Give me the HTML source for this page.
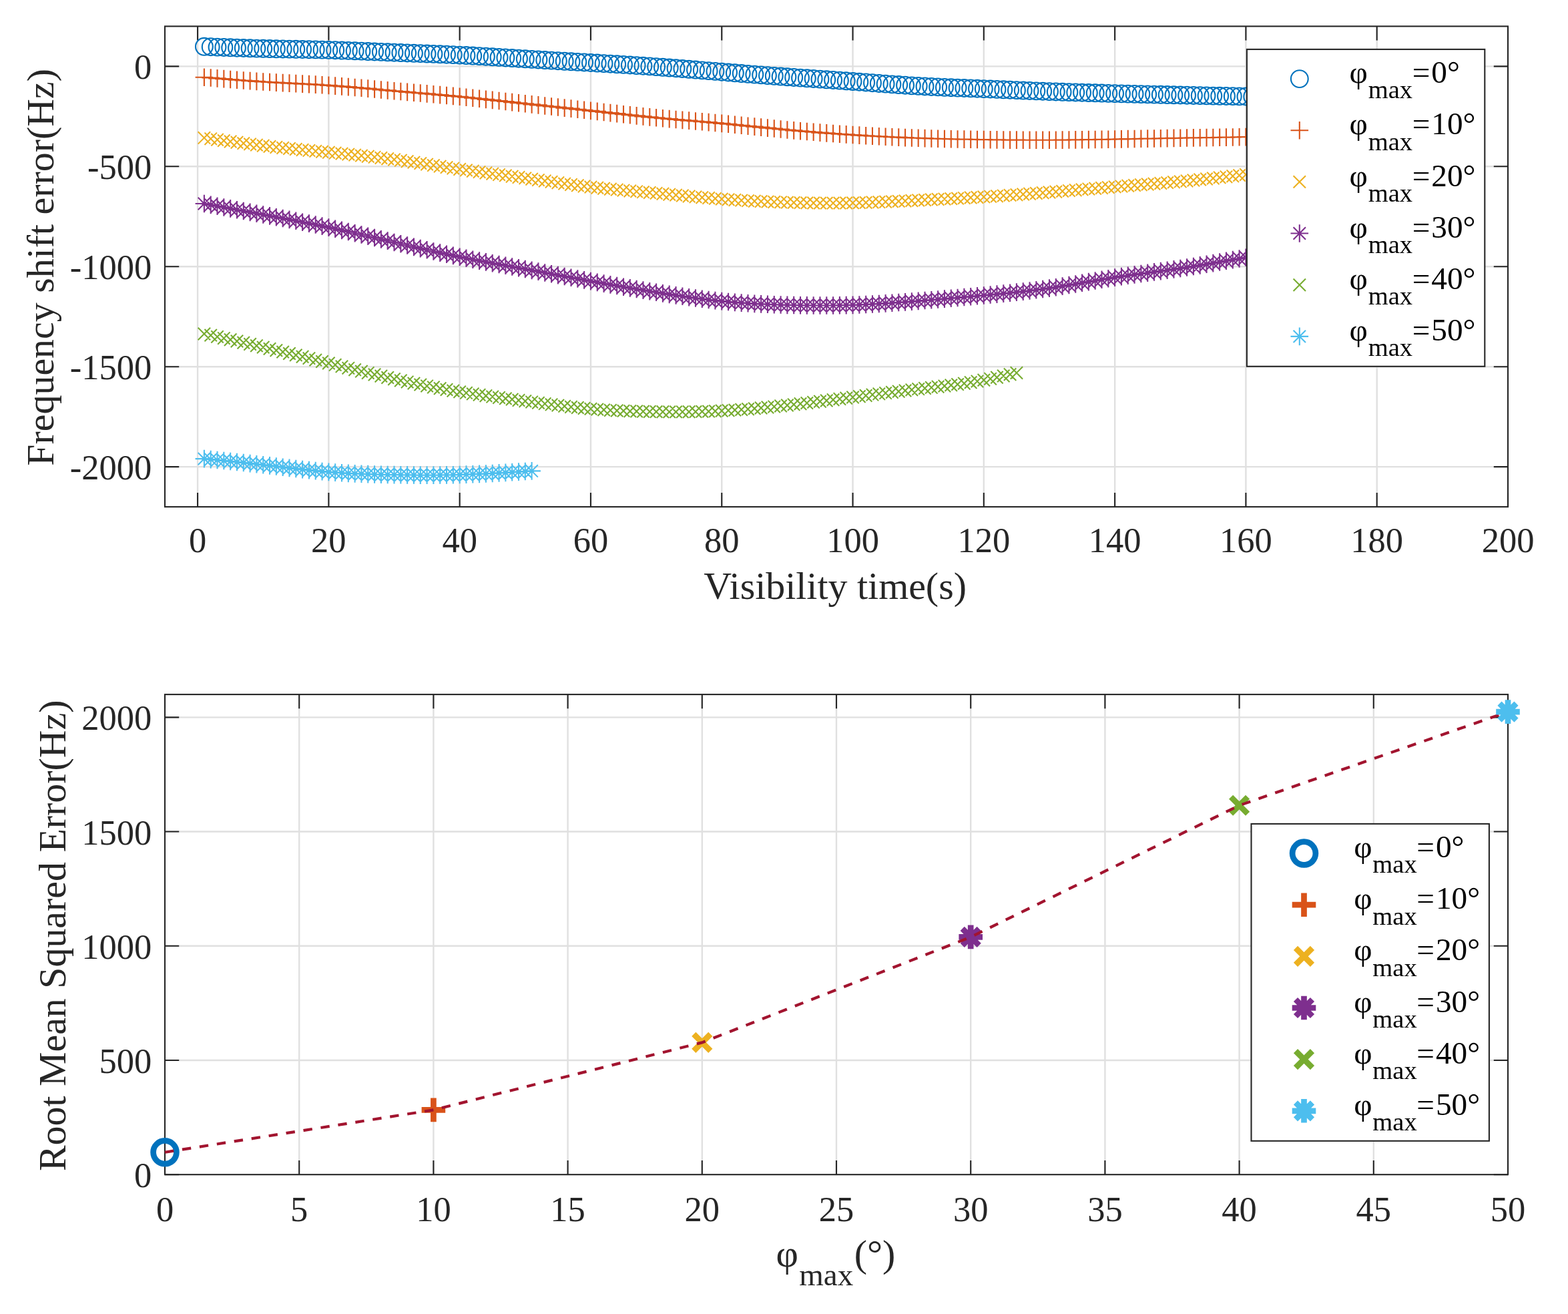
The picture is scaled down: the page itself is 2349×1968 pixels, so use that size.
<!DOCTYPE html><html><head><meta charset="utf-8"><style>html,body{margin:0;padding:0;background:#fff;}svg{display:block;}</style></head><body>
<svg width="2349" height="1968" viewBox="0 0 2349 1968">
<rect width="2349" height="1968" fill="#fff"/>
<path d="M296.07 39.4V759.1M492.37 39.4V759.1M688.66 39.4V759.1M884.95 39.4V759.1M1081.24 39.4V759.1M1277.54 39.4V759.1M1473.83 39.4V759.1M1670.12 39.4V759.1M1866.41 39.4V759.1M2062.71 39.4V759.1M247 699.12H2259M247 549.19H2259M247 399.25H2259M247 249.31H2259M247 99.38H2259" stroke="#e0e0e0" stroke-width="2.4" fill="none"/>
<path d="M296.07 759.1v-21.2M296.07 39.4v21.2M492.37 759.1v-21.2M492.37 39.4v21.2M688.66 759.1v-21.2M688.66 39.4v21.2M884.95 759.1v-21.2M884.95 39.4v21.2M1081.24 759.1v-21.2M1081.24 39.4v21.2M1277.54 759.1v-21.2M1277.54 39.4v21.2M1473.83 759.1v-21.2M1473.83 39.4v21.2M1670.12 759.1v-21.2M1670.12 39.4v21.2M1866.41 759.1v-21.2M1866.41 39.4v21.2M2062.71 759.1v-21.2M2062.71 39.4v21.2M2259 759.1v-21.2M2259 39.4v21.2M247 699.12h21.2M2259 699.12h-21.2M247 549.19h21.2M2259 549.19h-21.2M247 399.25h21.2M2259 399.25h-21.2M247 249.31h21.2M2259 249.31h-21.2M247 99.38h21.2M2259 99.38h-21.2" stroke="#262626" stroke-width="2.1" fill="none"/>
<rect x="247" y="39.4" width="2012" height="719.7" stroke="#262626" stroke-width="2.1" fill="none"/>
<g font-family="'Liberation Serif','Times New Roman',serif" font-size="52.5" fill="#262626"><text x="296.07" y="827.3" text-anchor="middle">0</text><text x="492.37" y="827.3" text-anchor="middle">20</text><text x="688.66" y="827.3" text-anchor="middle">40</text><text x="884.95" y="827.3" text-anchor="middle">60</text><text x="1081.24" y="827.3" text-anchor="middle">80</text><text x="1277.54" y="827.3" text-anchor="middle">100</text><text x="1473.83" y="827.3" text-anchor="middle">120</text><text x="1670.12" y="827.3" text-anchor="middle">140</text><text x="1866.41" y="827.3" text-anchor="middle">160</text><text x="2062.71" y="827.3" text-anchor="middle">180</text><text x="2259" y="827.3" text-anchor="middle">200</text><text x="227.3" y="718.23" text-anchor="end">-2000</text><text x="227.3" y="568.29" text-anchor="end">-1500</text><text x="227.3" y="418.35" text-anchor="end">-1000</text><text x="227.3" y="268.41" text-anchor="end">-500</text><text x="227.3" y="118.47" text-anchor="end">0</text></g>
<path d="M448.2 1040.1V1759.2M649.4 1040.1V1759.2M850.6 1040.1V1759.2M1051.8 1040.1V1759.2M1253 1040.1V1759.2M1454.2 1040.1V1759.2M1655.4 1040.1V1759.2M1856.6 1040.1V1759.2M2057.8 1040.1V1759.2M247 1587.99H2259M247 1416.77H2259M247 1245.56H2259M247 1074.34H2259" stroke="#e0e0e0" stroke-width="2.4" fill="none"/>
<path d="M247 1759.2v-21.2M247 1040.1v21.2M448.2 1759.2v-21.2M448.2 1040.1v21.2M649.4 1759.2v-21.2M649.4 1040.1v21.2M850.6 1759.2v-21.2M850.6 1040.1v21.2M1051.8 1759.2v-21.2M1051.8 1040.1v21.2M1253 1759.2v-21.2M1253 1040.1v21.2M1454.2 1759.2v-21.2M1454.2 1040.1v21.2M1655.4 1759.2v-21.2M1655.4 1040.1v21.2M1856.6 1759.2v-21.2M1856.6 1040.1v21.2M2057.8 1759.2v-21.2M2057.8 1040.1v21.2M2259 1759.2v-21.2M2259 1040.1v21.2M247 1759.2h21.2M2259 1759.2h-21.2M247 1587.99h21.2M2259 1587.99h-21.2M247 1416.77h21.2M2259 1416.77h-21.2M247 1245.56h21.2M2259 1245.56h-21.2M247 1074.34h21.2M2259 1074.34h-21.2" stroke="#262626" stroke-width="2.1" fill="none"/>
<rect x="247" y="1040.1" width="2012" height="719.1" stroke="#262626" stroke-width="2.1" fill="none"/>
<g font-family="'Liberation Serif','Times New Roman',serif" font-size="52.5" fill="#262626"><text x="247" y="1828.6" text-anchor="middle">0</text><text x="448.2" y="1828.6" text-anchor="middle">5</text><text x="649.4" y="1828.6" text-anchor="middle">10</text><text x="850.6" y="1828.6" text-anchor="middle">15</text><text x="1051.8" y="1828.6" text-anchor="middle">20</text><text x="1253" y="1828.6" text-anchor="middle">25</text><text x="1454.2" y="1828.6" text-anchor="middle">30</text><text x="1655.4" y="1828.6" text-anchor="middle">35</text><text x="1856.6" y="1828.6" text-anchor="middle">40</text><text x="2057.8" y="1828.6" text-anchor="middle">45</text><text x="2259" y="1828.6" text-anchor="middle">50</text><text x="227.3" y="1778.3" text-anchor="end">0</text><text x="227.3" y="1607.09" text-anchor="end">500</text><text x="227.3" y="1435.87" text-anchor="end">1000</text><text x="227.3" y="1264.66" text-anchor="end">1500</text><text x="227.3" y="1093.44" text-anchor="end">2000</text></g>
<path d="M292.99 69.84a12.9 12.9 0 1 0 25.8 0a12.9 12.9 0 1 0 -25.8 0M302.8 70.21a12.9 12.9 0 1 0 25.8 0a12.9 12.9 0 1 0 -25.8 0M312.62 70.59a12.9 12.9 0 1 0 25.8 0a12.9 12.9 0 1 0 -25.8 0M322.43 70.96a12.9 12.9 0 1 0 25.8 0a12.9 12.9 0 1 0 -25.8 0M332.25 71.31a12.9 12.9 0 1 0 25.8 0a12.9 12.9 0 1 0 -25.8 0M342.06 71.66a12.9 12.9 0 1 0 25.8 0a12.9 12.9 0 1 0 -25.8 0M351.88 71.98a12.9 12.9 0 1 0 25.8 0a12.9 12.9 0 1 0 -25.8 0M361.69 72.29a12.9 12.9 0 1 0 25.8 0a12.9 12.9 0 1 0 -25.8 0M371.5 72.58a12.9 12.9 0 1 0 25.8 0a12.9 12.9 0 1 0 -25.8 0M381.32 72.84a12.9 12.9 0 1 0 25.8 0a12.9 12.9 0 1 0 -25.8 0M391.13 73.07a12.9 12.9 0 1 0 25.8 0a12.9 12.9 0 1 0 -25.8 0M400.95 73.27a12.9 12.9 0 1 0 25.8 0a12.9 12.9 0 1 0 -25.8 0M410.76 73.47a12.9 12.9 0 1 0 25.8 0a12.9 12.9 0 1 0 -25.8 0M420.58 73.65a12.9 12.9 0 1 0 25.8 0a12.9 12.9 0 1 0 -25.8 0M430.39 73.82a12.9 12.9 0 1 0 25.8 0a12.9 12.9 0 1 0 -25.8 0M440.21 74.01a12.9 12.9 0 1 0 25.8 0a12.9 12.9 0 1 0 -25.8 0M450.02 74.2a12.9 12.9 0 1 0 25.8 0a12.9 12.9 0 1 0 -25.8 0M459.84 74.41a12.9 12.9 0 1 0 25.8 0a12.9 12.9 0 1 0 -25.8 0M469.65 74.64a12.9 12.9 0 1 0 25.8 0a12.9 12.9 0 1 0 -25.8 0M479.47 74.91a12.9 12.9 0 1 0 25.8 0a12.9 12.9 0 1 0 -25.8 0M489.28 75.2a12.9 12.9 0 1 0 25.8 0a12.9 12.9 0 1 0 -25.8 0M499.1 75.53a12.9 12.9 0 1 0 25.8 0a12.9 12.9 0 1 0 -25.8 0M508.91 75.89a12.9 12.9 0 1 0 25.8 0a12.9 12.9 0 1 0 -25.8 0M518.72 76.27a12.9 12.9 0 1 0 25.8 0a12.9 12.9 0 1 0 -25.8 0M528.54 76.66a12.9 12.9 0 1 0 25.8 0a12.9 12.9 0 1 0 -25.8 0M538.35 77.07a12.9 12.9 0 1 0 25.8 0a12.9 12.9 0 1 0 -25.8 0M548.17 77.48a12.9 12.9 0 1 0 25.8 0a12.9 12.9 0 1 0 -25.8 0M557.98 77.88a12.9 12.9 0 1 0 25.8 0a12.9 12.9 0 1 0 -25.8 0M567.8 78.29a12.9 12.9 0 1 0 25.8 0a12.9 12.9 0 1 0 -25.8 0M577.61 78.68a12.9 12.9 0 1 0 25.8 0a12.9 12.9 0 1 0 -25.8 0M587.43 79.06a12.9 12.9 0 1 0 25.8 0a12.9 12.9 0 1 0 -25.8 0M597.24 79.43a12.9 12.9 0 1 0 25.8 0a12.9 12.9 0 1 0 -25.8 0M607.06 79.8a12.9 12.9 0 1 0 25.8 0a12.9 12.9 0 1 0 -25.8 0M616.87 80.16a12.9 12.9 0 1 0 25.8 0a12.9 12.9 0 1 0 -25.8 0M626.69 80.52a12.9 12.9 0 1 0 25.8 0a12.9 12.9 0 1 0 -25.8 0M636.5 80.9a12.9 12.9 0 1 0 25.8 0a12.9 12.9 0 1 0 -25.8 0M646.31 81.29a12.9 12.9 0 1 0 25.8 0a12.9 12.9 0 1 0 -25.8 0M656.13 81.69a12.9 12.9 0 1 0 25.8 0a12.9 12.9 0 1 0 -25.8 0M665.94 82.12a12.9 12.9 0 1 0 25.8 0a12.9 12.9 0 1 0 -25.8 0M675.76 82.58a12.9 12.9 0 1 0 25.8 0a12.9 12.9 0 1 0 -25.8 0M685.57 83.07a12.9 12.9 0 1 0 25.8 0a12.9 12.9 0 1 0 -25.8 0M695.39 83.59a12.9 12.9 0 1 0 25.8 0a12.9 12.9 0 1 0 -25.8 0M705.2 84.13a12.9 12.9 0 1 0 25.8 0a12.9 12.9 0 1 0 -25.8 0M715.02 84.7a12.9 12.9 0 1 0 25.8 0a12.9 12.9 0 1 0 -25.8 0M724.83 85.28a12.9 12.9 0 1 0 25.8 0a12.9 12.9 0 1 0 -25.8 0M734.65 85.87a12.9 12.9 0 1 0 25.8 0a12.9 12.9 0 1 0 -25.8 0M744.46 86.47a12.9 12.9 0 1 0 25.8 0a12.9 12.9 0 1 0 -25.8 0M754.28 87.07a12.9 12.9 0 1 0 25.8 0a12.9 12.9 0 1 0 -25.8 0M764.09 87.68a12.9 12.9 0 1 0 25.8 0a12.9 12.9 0 1 0 -25.8 0M773.9 88.28a12.9 12.9 0 1 0 25.8 0a12.9 12.9 0 1 0 -25.8 0M783.72 88.87a12.9 12.9 0 1 0 25.8 0a12.9 12.9 0 1 0 -25.8 0M793.53 89.46a12.9 12.9 0 1 0 25.8 0a12.9 12.9 0 1 0 -25.8 0M803.35 90.04a12.9 12.9 0 1 0 25.8 0a12.9 12.9 0 1 0 -25.8 0M813.16 90.61a12.9 12.9 0 1 0 25.8 0a12.9 12.9 0 1 0 -25.8 0M822.98 91.18a12.9 12.9 0 1 0 25.8 0a12.9 12.9 0 1 0 -25.8 0M832.79 91.75a12.9 12.9 0 1 0 25.8 0a12.9 12.9 0 1 0 -25.8 0M842.61 92.32a12.9 12.9 0 1 0 25.8 0a12.9 12.9 0 1 0 -25.8 0M852.42 92.88a12.9 12.9 0 1 0 25.8 0a12.9 12.9 0 1 0 -25.8 0M862.24 93.44a12.9 12.9 0 1 0 25.8 0a12.9 12.9 0 1 0 -25.8 0M872.05 94.01a12.9 12.9 0 1 0 25.8 0a12.9 12.9 0 1 0 -25.8 0M881.87 94.57a12.9 12.9 0 1 0 25.8 0a12.9 12.9 0 1 0 -25.8 0M891.68 95.14a12.9 12.9 0 1 0 25.8 0a12.9 12.9 0 1 0 -25.8 0M901.5 95.72a12.9 12.9 0 1 0 25.8 0a12.9 12.9 0 1 0 -25.8 0M911.31 96.3a12.9 12.9 0 1 0 25.8 0a12.9 12.9 0 1 0 -25.8 0M921.12 96.9a12.9 12.9 0 1 0 25.8 0a12.9 12.9 0 1 0 -25.8 0M930.94 97.5a12.9 12.9 0 1 0 25.8 0a12.9 12.9 0 1 0 -25.8 0M940.75 98.12a12.9 12.9 0 1 0 25.8 0a12.9 12.9 0 1 0 -25.8 0M950.57 98.76a12.9 12.9 0 1 0 25.8 0a12.9 12.9 0 1 0 -25.8 0M960.38 99.42a12.9 12.9 0 1 0 25.8 0a12.9 12.9 0 1 0 -25.8 0M970.2 100.09a12.9 12.9 0 1 0 25.8 0a12.9 12.9 0 1 0 -25.8 0M980.01 100.79a12.9 12.9 0 1 0 25.8 0a12.9 12.9 0 1 0 -25.8 0M989.83 101.52a12.9 12.9 0 1 0 25.8 0a12.9 12.9 0 1 0 -25.8 0M999.64 102.25a12.9 12.9 0 1 0 25.8 0a12.9 12.9 0 1 0 -25.8 0M1009.46 103.01a12.9 12.9 0 1 0 25.8 0a12.9 12.9 0 1 0 -25.8 0M1019.27 103.77a12.9 12.9 0 1 0 25.8 0a12.9 12.9 0 1 0 -25.8 0M1029.09 104.55a12.9 12.9 0 1 0 25.8 0a12.9 12.9 0 1 0 -25.8 0M1038.9 105.34a12.9 12.9 0 1 0 25.8 0a12.9 12.9 0 1 0 -25.8 0M1048.71 106.13a12.9 12.9 0 1 0 25.8 0a12.9 12.9 0 1 0 -25.8 0M1058.53 106.92a12.9 12.9 0 1 0 25.8 0a12.9 12.9 0 1 0 -25.8 0M1068.34 107.71a12.9 12.9 0 1 0 25.8 0a12.9 12.9 0 1 0 -25.8 0M1078.16 108.5a12.9 12.9 0 1 0 25.8 0a12.9 12.9 0 1 0 -25.8 0M1087.97 109.29a12.9 12.9 0 1 0 25.8 0a12.9 12.9 0 1 0 -25.8 0M1097.79 110.07a12.9 12.9 0 1 0 25.8 0a12.9 12.9 0 1 0 -25.8 0M1107.6 110.84a12.9 12.9 0 1 0 25.8 0a12.9 12.9 0 1 0 -25.8 0M1117.42 111.61a12.9 12.9 0 1 0 25.8 0a12.9 12.9 0 1 0 -25.8 0M1127.23 112.36a12.9 12.9 0 1 0 25.8 0a12.9 12.9 0 1 0 -25.8 0M1137.05 113.11a12.9 12.9 0 1 0 25.8 0a12.9 12.9 0 1 0 -25.8 0M1146.86 113.84a12.9 12.9 0 1 0 25.8 0a12.9 12.9 0 1 0 -25.8 0M1156.68 114.56a12.9 12.9 0 1 0 25.8 0a12.9 12.9 0 1 0 -25.8 0M1166.49 115.27a12.9 12.9 0 1 0 25.8 0a12.9 12.9 0 1 0 -25.8 0M1176.3 115.96a12.9 12.9 0 1 0 25.8 0a12.9 12.9 0 1 0 -25.8 0M1186.12 116.64a12.9 12.9 0 1 0 25.8 0a12.9 12.9 0 1 0 -25.8 0M1195.93 117.3a12.9 12.9 0 1 0 25.8 0a12.9 12.9 0 1 0 -25.8 0M1205.75 117.97a12.9 12.9 0 1 0 25.8 0a12.9 12.9 0 1 0 -25.8 0M1215.56 118.63a12.9 12.9 0 1 0 25.8 0a12.9 12.9 0 1 0 -25.8 0M1225.38 119.29a12.9 12.9 0 1 0 25.8 0a12.9 12.9 0 1 0 -25.8 0M1235.19 119.96a12.9 12.9 0 1 0 25.8 0a12.9 12.9 0 1 0 -25.8 0M1245.01 120.63a12.9 12.9 0 1 0 25.8 0a12.9 12.9 0 1 0 -25.8 0M1254.82 121.32a12.9 12.9 0 1 0 25.8 0a12.9 12.9 0 1 0 -25.8 0M1264.64 122.02a12.9 12.9 0 1 0 25.8 0a12.9 12.9 0 1 0 -25.8 0M1274.45 122.73a12.9 12.9 0 1 0 25.8 0a12.9 12.9 0 1 0 -25.8 0M1284.27 123.46a12.9 12.9 0 1 0 25.8 0a12.9 12.9 0 1 0 -25.8 0M1294.08 124.2a12.9 12.9 0 1 0 25.8 0a12.9 12.9 0 1 0 -25.8 0M1303.9 124.93a12.9 12.9 0 1 0 25.8 0a12.9 12.9 0 1 0 -25.8 0M1313.71 125.65a12.9 12.9 0 1 0 25.8 0a12.9 12.9 0 1 0 -25.8 0M1323.52 126.36a12.9 12.9 0 1 0 25.8 0a12.9 12.9 0 1 0 -25.8 0M1333.34 127.05a12.9 12.9 0 1 0 25.8 0a12.9 12.9 0 1 0 -25.8 0M1343.15 127.71a12.9 12.9 0 1 0 25.8 0a12.9 12.9 0 1 0 -25.8 0M1352.97 128.33a12.9 12.9 0 1 0 25.8 0a12.9 12.9 0 1 0 -25.8 0M1362.78 128.91a12.9 12.9 0 1 0 25.8 0a12.9 12.9 0 1 0 -25.8 0M1372.6 129.45a12.9 12.9 0 1 0 25.8 0a12.9 12.9 0 1 0 -25.8 0M1382.41 129.94a12.9 12.9 0 1 0 25.8 0a12.9 12.9 0 1 0 -25.8 0M1392.23 130.4a12.9 12.9 0 1 0 25.8 0a12.9 12.9 0 1 0 -25.8 0M1402.04 130.83a12.9 12.9 0 1 0 25.8 0a12.9 12.9 0 1 0 -25.8 0M1411.86 131.23a12.9 12.9 0 1 0 25.8 0a12.9 12.9 0 1 0 -25.8 0M1421.67 131.62a12.9 12.9 0 1 0 25.8 0a12.9 12.9 0 1 0 -25.8 0M1431.49 131.99a12.9 12.9 0 1 0 25.8 0a12.9 12.9 0 1 0 -25.8 0M1441.3 132.36a12.9 12.9 0 1 0 25.8 0a12.9 12.9 0 1 0 -25.8 0M1451.11 132.73a12.9 12.9 0 1 0 25.8 0a12.9 12.9 0 1 0 -25.8 0M1460.93 133.11a12.9 12.9 0 1 0 25.8 0a12.9 12.9 0 1 0 -25.8 0M1470.74 133.5a12.9 12.9 0 1 0 25.8 0a12.9 12.9 0 1 0 -25.8 0M1480.56 133.9a12.9 12.9 0 1 0 25.8 0a12.9 12.9 0 1 0 -25.8 0M1490.37 134.31a12.9 12.9 0 1 0 25.8 0a12.9 12.9 0 1 0 -25.8 0M1500.19 134.72a12.9 12.9 0 1 0 25.8 0a12.9 12.9 0 1 0 -25.8 0M1510 135.13a12.9 12.9 0 1 0 25.8 0a12.9 12.9 0 1 0 -25.8 0M1519.82 135.54a12.9 12.9 0 1 0 25.8 0a12.9 12.9 0 1 0 -25.8 0M1529.63 135.94a12.9 12.9 0 1 0 25.8 0a12.9 12.9 0 1 0 -25.8 0M1539.45 136.34a12.9 12.9 0 1 0 25.8 0a12.9 12.9 0 1 0 -25.8 0M1549.26 136.73a12.9 12.9 0 1 0 25.8 0a12.9 12.9 0 1 0 -25.8 0M1559.08 137.1a12.9 12.9 0 1 0 25.8 0a12.9 12.9 0 1 0 -25.8 0M1568.89 137.45a12.9 12.9 0 1 0 25.8 0a12.9 12.9 0 1 0 -25.8 0M1578.7 137.79a12.9 12.9 0 1 0 25.8 0a12.9 12.9 0 1 0 -25.8 0M1588.52 138.12a12.9 12.9 0 1 0 25.8 0a12.9 12.9 0 1 0 -25.8 0M1598.33 138.43a12.9 12.9 0 1 0 25.8 0a12.9 12.9 0 1 0 -25.8 0M1608.15 138.73a12.9 12.9 0 1 0 25.8 0a12.9 12.9 0 1 0 -25.8 0M1617.96 139.02a12.9 12.9 0 1 0 25.8 0a12.9 12.9 0 1 0 -25.8 0M1627.78 139.3a12.9 12.9 0 1 0 25.8 0a12.9 12.9 0 1 0 -25.8 0M1637.59 139.57a12.9 12.9 0 1 0 25.8 0a12.9 12.9 0 1 0 -25.8 0M1647.41 139.84a12.9 12.9 0 1 0 25.8 0a12.9 12.9 0 1 0 -25.8 0M1657.22 140.1a12.9 12.9 0 1 0 25.8 0a12.9 12.9 0 1 0 -25.8 0M1667.04 140.35a12.9 12.9 0 1 0 25.8 0a12.9 12.9 0 1 0 -25.8 0M1676.85 140.61a12.9 12.9 0 1 0 25.8 0a12.9 12.9 0 1 0 -25.8 0M1686.67 140.85a12.9 12.9 0 1 0 25.8 0a12.9 12.9 0 1 0 -25.8 0M1696.48 141.1a12.9 12.9 0 1 0 25.8 0a12.9 12.9 0 1 0 -25.8 0M1706.3 141.34a12.9 12.9 0 1 0 25.8 0a12.9 12.9 0 1 0 -25.8 0M1716.11 141.58a12.9 12.9 0 1 0 25.8 0a12.9 12.9 0 1 0 -25.8 0M1725.92 141.81a12.9 12.9 0 1 0 25.8 0a12.9 12.9 0 1 0 -25.8 0M1735.74 142.04a12.9 12.9 0 1 0 25.8 0a12.9 12.9 0 1 0 -25.8 0M1745.55 142.27a12.9 12.9 0 1 0 25.8 0a12.9 12.9 0 1 0 -25.8 0M1755.37 142.5a12.9 12.9 0 1 0 25.8 0a12.9 12.9 0 1 0 -25.8 0M1765.18 142.72a12.9 12.9 0 1 0 25.8 0a12.9 12.9 0 1 0 -25.8 0M1775 142.94a12.9 12.9 0 1 0 25.8 0a12.9 12.9 0 1 0 -25.8 0M1784.81 143.16a12.9 12.9 0 1 0 25.8 0a12.9 12.9 0 1 0 -25.8 0M1794.63 143.37a12.9 12.9 0 1 0 25.8 0a12.9 12.9 0 1 0 -25.8 0M1804.44 143.58a12.9 12.9 0 1 0 25.8 0a12.9 12.9 0 1 0 -25.8 0M1814.26 143.78a12.9 12.9 0 1 0 25.8 0a12.9 12.9 0 1 0 -25.8 0M1824.07 143.97a12.9 12.9 0 1 0 25.8 0a12.9 12.9 0 1 0 -25.8 0M1833.89 144.16a12.9 12.9 0 1 0 25.8 0a12.9 12.9 0 1 0 -25.8 0M1843.7 144.34a12.9 12.9 0 1 0 25.8 0a12.9 12.9 0 1 0 -25.8 0M1853.51 144.51a12.9 12.9 0 1 0 25.8 0a12.9 12.9 0 1 0 -25.8 0M1863.33 144.67a12.9 12.9 0 1 0 25.8 0a12.9 12.9 0 1 0 -25.8 0M1873.14 144.82a12.9 12.9 0 1 0 25.8 0a12.9 12.9 0 1 0 -25.8 0M1882.96 144.97a12.9 12.9 0 1 0 25.8 0a12.9 12.9 0 1 0 -25.8 0M1892.77 145.11a12.9 12.9 0 1 0 25.8 0a12.9 12.9 0 1 0 -25.8 0M1902.59 145.24a12.9 12.9 0 1 0 25.8 0a12.9 12.9 0 1 0 -25.8 0M1912.4 145.37a12.9 12.9 0 1 0 25.8 0a12.9 12.9 0 1 0 -25.8 0M1922.22 145.49a12.9 12.9 0 1 0 25.8 0a12.9 12.9 0 1 0 -25.8 0M1932.03 145.62a12.9 12.9 0 1 0 25.8 0a12.9 12.9 0 1 0 -25.8 0M1941.85 145.74a12.9 12.9 0 1 0 25.8 0a12.9 12.9 0 1 0 -25.8 0M1951.66 145.86a12.9 12.9 0 1 0 25.8 0a12.9 12.9 0 1 0 -25.8 0" stroke="#0072BD" stroke-width="2.1" fill="none"/>
<path d="M292.59 115.72H319.19M305.89 102.42V129.02M302.4 116.54H329M315.7 103.24V129.84M312.22 117.36H338.82M325.52 104.06V130.66M322.03 118.16H348.63M335.33 104.86V131.46M331.85 118.95H358.45M345.15 105.65V132.25M341.66 119.72H368.26M354.96 106.42V133.02M351.48 120.46H378.08M364.78 107.16V133.76M361.29 121.17H387.89M374.59 107.87V134.47M371.1 121.84H397.7M384.4 108.54V135.14M380.92 122.47H407.52M394.22 109.17V135.77M390.73 123.05H417.33M404.03 109.75V136.35M400.55 123.59H427.15M413.85 110.29V136.89M410.36 124.11H436.96M423.66 110.81V137.41M420.18 124.61H446.78M433.48 111.31V137.91M429.99 125.11H456.59M443.29 111.81V138.41M439.81 125.61H466.41M453.11 112.31V138.91M449.62 126.13H476.22M462.92 112.83V139.43M459.44 126.67H486.04M472.74 113.37V139.97M469.25 127.26H495.85M482.55 113.96V140.56M479.07 127.89H505.67M492.37 114.59V141.19M488.88 128.58H515.48M502.18 115.28V141.88M498.7 129.33H525.3M512 116.03V142.63M508.51 130.12H535.11M521.81 116.82V143.42M518.32 130.94H544.92M531.62 117.64V144.24M528.14 131.79H554.74M541.44 118.49V145.09M537.95 132.67H564.55M551.25 119.37V145.97M547.77 133.55H574.37M561.07 120.25V146.85M557.58 134.44H584.18M570.88 121.14V147.74M567.4 135.33H594M580.7 122.03V148.63M577.21 136.2H603.81M590.51 122.9V149.5M587.03 137.06H613.63M600.33 123.76V150.36M596.84 137.9H623.44M610.14 124.6V151.2M606.66 138.73H633.26M619.96 125.43V152.03M616.47 139.57H643.07M629.77 126.27V152.87M626.29 140.4H652.89M639.59 127.1V153.7M636.1 141.24H662.7M649.4 127.94V154.54M645.91 142.1H672.51M659.21 128.8V155.4M655.73 142.97H682.33M669.03 129.67V156.27M665.54 143.87H692.14M678.84 130.57V157.17M675.36 144.81H701.96M688.66 131.51V158.11M685.17 145.77H711.77M698.47 132.47V159.07M694.99 146.77H721.59M708.29 133.47V160.07M704.8 147.79H731.4M718.1 134.49V161.09M714.62 148.84H741.22M727.92 135.54V162.14M724.43 149.9H751.03M737.73 136.6V163.2M734.25 150.98H760.85M747.55 137.68V164.28M744.06 152.06H770.66M757.36 138.76V165.36M753.88 153.14H780.48M767.18 139.84V166.44M763.69 154.23H790.29M776.99 140.93V167.53M773.5 155.3H800.1M786.8 142V168.6M783.32 156.37H809.92M796.62 143.07V169.67M793.13 157.42H819.73M806.43 144.12V170.72M802.95 158.47H829.55M816.25 145.17V171.77M812.76 159.52H839.36M826.06 146.22V172.82M822.58 160.56H849.18M835.88 147.26V173.86M832.39 161.6H858.99M845.69 148.3V174.9M842.21 162.65H868.81M855.51 149.35V175.95M852.02 163.7H878.62M865.32 150.4V177M861.84 164.76H888.44M875.14 151.46V178.06M871.65 165.83H898.25M884.95 152.53V179.13M881.47 166.91H908.07M894.77 153.61V180.21M891.28 167.99H917.88M904.58 154.69V181.29M901.1 169.08H927.7M914.4 155.78V182.38M910.91 170.17H937.51M924.21 156.87V183.47M920.72 171.25H947.32M934.02 157.95V184.55M930.54 172.31H957.14M943.84 159.01V185.61M940.35 173.35H966.95M953.65 160.05V186.65M950.17 174.38H976.77M963.47 161.08V187.68M959.98 175.37H986.58M973.28 162.07V188.67M969.8 176.32H996.4M983.1 163.02V189.62M979.61 177.24H1006.21M992.91 163.94V190.54M989.43 178.13H1016.03M1002.73 164.83V191.43M999.24 178.99H1025.84M1012.54 165.69V192.29M1009.06 179.83H1035.66M1022.36 166.53V193.13M1018.87 180.66H1045.47M1032.17 167.36V193.96M1028.69 181.49H1055.29M1041.99 168.19V194.79M1038.5 182.32H1065.1M1051.8 169.02V195.62M1048.31 183.16H1074.91M1061.61 169.86V196.46M1058.13 184.02H1084.73M1071.43 170.72V197.32M1067.94 184.9H1094.54M1081.24 171.6V198.2M1077.76 185.81H1104.36M1091.06 172.51V199.11M1087.57 186.75H1114.17M1100.87 173.45V200.05M1097.39 187.71H1123.99M1110.69 174.41V201.01M1107.2 188.68H1133.8M1120.5 175.38V201.98M1117.02 189.66H1143.62M1130.32 176.36V202.96M1126.83 190.64H1153.43M1140.13 177.34V203.94M1136.65 191.61H1163.25M1149.95 178.31V204.91M1146.46 192.57H1173.06M1159.76 179.27V205.87M1156.28 193.52H1182.88M1169.58 180.22V206.82M1166.09 194.44H1192.69M1179.39 181.14V207.74M1175.9 195.33H1202.5M1189.2 182.03V208.63M1185.72 196.19H1212.32M1199.02 182.89V209.49M1195.53 197.02H1222.13M1208.83 183.72V210.32M1205.35 197.82H1231.95M1218.65 184.52V211.12M1215.16 198.59H1241.76M1228.46 185.29V211.89M1224.98 199.33H1251.58M1238.28 186.03V212.63M1234.79 200.05H1261.39M1248.09 186.75V213.35M1244.61 200.73H1271.21M1257.91 187.43V214.03M1254.42 201.39H1281.02M1267.72 188.09V214.69M1264.24 202.02H1290.84M1277.54 188.72V215.32M1274.05 202.63H1300.65M1287.35 189.33V215.93M1283.87 203.2H1310.47M1297.17 189.9V216.5M1293.68 203.75H1320.28M1306.98 190.45V217.05M1303.5 204.27H1330.1M1316.8 190.97V217.57M1313.31 204.76H1339.91M1326.61 191.46V218.06M1323.12 205.23H1349.72M1336.42 191.93V218.53M1332.94 205.67H1359.54M1346.24 192.37V218.97M1342.75 206.08H1369.35M1356.05 192.78V219.38M1352.57 206.46H1379.17M1365.87 193.16V219.76M1362.38 206.82H1388.98M1375.68 193.52V220.12M1372.2 207.15H1398.8M1385.5 193.85V220.45M1382.01 207.45H1408.61M1395.31 194.15V220.75M1391.83 207.73H1418.43M1405.13 194.43V221.03M1401.64 207.99H1428.24M1414.94 194.69V221.29M1411.46 208.23H1438.06M1424.76 194.93V221.53M1421.27 208.44H1447.87M1434.57 195.14V221.74M1431.09 208.64H1457.69M1444.39 195.34V221.94M1440.9 208.82H1467.5M1454.2 195.52V222.12M1450.71 208.98H1477.31M1464.01 195.68V222.28M1460.53 209.13H1487.13M1473.83 195.83V222.43M1470.34 209.26H1496.94M1483.64 195.96V222.56M1480.16 209.38H1506.76M1493.46 196.08V222.68M1489.97 209.49H1516.57M1503.27 196.19V222.79M1499.79 209.58H1526.39M1513.09 196.28V222.88M1509.6 209.65H1536.2M1522.9 196.35V222.95M1519.42 209.71H1546.02M1532.72 196.41V223.01M1529.23 209.74H1555.83M1542.53 196.44V223.04M1539.05 209.76H1565.65M1552.35 196.46V223.06M1548.86 209.75H1575.46M1562.16 196.45V223.05M1558.68 209.73H1585.28M1571.98 196.43V223.03M1568.49 209.68H1595.09M1581.79 196.38V222.98M1578.3 209.61H1604.9M1591.6 196.31V222.91M1588.12 209.52H1614.72M1601.42 196.22V222.82M1597.93 209.42H1624.53M1611.23 196.12V222.72M1607.75 209.3H1634.35M1621.05 196V222.6M1617.56 209.17H1644.16M1630.86 195.87V222.47M1627.38 209.02H1653.98M1640.68 195.72V222.32M1637.19 208.86H1663.79M1650.49 195.56V222.16M1647.01 208.7H1673.61M1660.31 195.4V222M1656.82 208.53H1683.42M1670.12 195.23V221.83M1666.64 208.35H1693.24M1679.94 195.05V221.65M1676.45 208.17H1703.05M1689.75 194.87V221.47M1686.27 207.99H1712.87M1699.57 194.69V221.29M1696.08 207.81H1722.68M1709.38 194.51V221.11M1705.9 207.62H1732.5M1719.2 194.32V220.92M1715.71 207.44H1742.31M1729.01 194.14V220.74M1725.52 207.26H1752.12M1738.82 193.96V220.56M1735.34 207.08H1761.94M1748.64 193.78V220.38M1745.15 206.9H1771.75M1758.45 193.6V220.2M1754.97 206.73H1781.57M1768.27 193.43V220.03M1764.78 206.56H1791.38M1778.08 193.26V219.86M1774.6 206.4H1801.2M1787.9 193.1V219.7M1784.41 206.24H1811.01M1797.71 192.94V219.54M1794.23 206.08H1820.83M1807.53 192.78V219.38M1804.04 205.93H1830.64M1817.34 192.63V219.23M1813.86 205.77H1840.46M1827.16 192.47V219.07M1823.67 205.61H1850.27M1836.97 192.31V218.91M1833.49 205.45H1860.09M1846.79 192.15V218.75M1843.3 205.28H1869.9M1856.6 191.98V218.58M1853.11 205.11H1879.71M1866.41 191.81V218.41M1862.93 204.93H1889.53M1876.23 191.63V218.23M1872.74 204.75H1899.34M1886.04 191.45V218.05M1882.56 204.56H1909.16M1895.86 191.26V217.86M1892.37 204.36H1918.97M1905.67 191.06V217.66M1902.19 204.16H1928.79M1915.49 190.86V217.46M1912 203.96H1938.6M1925.3 190.66V217.26M1921.82 203.76H1948.42M1935.12 190.46V217.06M1931.63 203.55H1958.23M1944.93 190.25V216.85M1941.45 203.34H1968.05M1954.75 190.04V216.64M1951.26 203.13H1977.86M1964.56 189.83V216.43" stroke="#D95319" stroke-width="2.1" fill="none"/>
<path d="M296.69 197.23L315.09 215.63M296.69 215.63L315.09 197.23M306.5 198.62L324.9 217.02M306.5 217.02L324.9 198.62M316.32 200.01L334.72 218.41M316.32 218.41L334.72 200.01M326.13 201.39L344.53 219.79M326.13 219.79L344.53 201.39M335.95 202.75L354.35 221.15M335.95 221.15L354.35 202.75M345.76 204.09L364.16 222.49M345.76 222.49L364.16 204.09M355.58 205.39L373.98 223.79M355.58 223.79L373.98 205.39M365.39 206.66L383.79 225.06M365.39 225.06L383.79 206.66M375.2 207.89L393.6 226.29M375.2 226.29L393.6 207.89M385.02 209.08L403.42 227.48M385.02 227.48L403.42 209.08M394.83 210.21L413.23 228.61M394.83 228.61L413.23 210.21M404.65 211.29L423.05 229.69M404.65 229.69L423.05 211.29M414.46 212.34L432.86 230.74M414.46 230.74L432.86 212.34M424.28 213.35L442.68 231.75M424.28 231.75L442.68 213.35M434.09 214.33L452.49 232.73M434.09 232.73L452.49 214.33M443.91 215.29L462.31 233.69M443.91 233.69L462.31 215.29M453.72 216.23L472.12 234.63M453.72 234.63L472.12 216.23M463.54 217.17L481.94 235.57M463.54 235.57L481.94 217.17M473.35 218.1L491.75 236.5M473.35 236.5L491.75 218.1M483.17 219.03L501.57 237.43M483.17 237.43L501.57 219.03M492.98 219.97L511.38 238.37M492.98 238.37L511.38 219.97M502.8 220.93L521.2 239.33M502.8 239.33L521.2 220.93M512.61 221.9L531.01 240.3M512.61 240.3L531.01 221.9M522.42 222.9L540.82 241.3M522.42 241.3L540.82 222.9M532.24 223.94L550.64 242.34M532.24 242.34L550.64 223.94M542.05 225.01L560.45 243.41M542.05 243.41L560.45 225.01M551.87 226.12L570.27 244.52M551.87 244.52L570.27 226.12M561.68 227.28L580.08 245.68M561.68 245.68L580.08 227.28M571.5 228.49L589.9 246.89M571.5 246.89L589.9 228.49M581.31 229.77L599.71 248.17M581.31 248.17L599.71 229.77M591.13 231.1L609.53 249.5M591.13 249.5L609.53 231.1M600.94 232.49L619.34 250.89M600.94 250.89L619.34 232.49M610.76 233.93L629.16 252.33M610.76 252.33L629.16 233.93M620.57 235.4L638.97 253.8M620.57 253.8L638.97 235.4M630.39 236.89L648.79 255.29M630.39 255.29L648.79 236.89M640.2 238.39L658.6 256.79M640.2 256.79L658.6 238.39M650.01 239.9L668.41 258.3M650.01 258.3L668.41 239.9M659.83 241.39L678.23 259.79M659.83 259.79L678.23 241.39M669.64 242.87L688.04 261.27M669.64 261.27L688.04 242.87M679.46 244.31L697.86 262.71M679.46 262.71L697.86 244.31M689.27 245.72L707.67 264.12M689.27 264.12L707.67 245.72M699.09 247.09L717.49 265.49M699.09 265.49L717.49 247.09M708.9 248.43L727.3 266.83M708.9 266.83L727.3 248.43M718.72 249.76L737.12 268.16M718.72 268.16L737.12 249.76M728.53 251.07L746.93 269.47M728.53 269.47L746.93 251.07M738.35 252.37L756.75 270.77M738.35 270.77L756.75 252.37M748.16 253.67L766.56 272.07M748.16 272.07L766.56 253.67M757.98 254.99L776.38 273.39M757.98 273.39L776.38 254.99M767.79 256.31L786.19 274.71M767.79 274.71L786.19 256.31M777.6 257.66L796 276.06M777.6 276.06L796 257.66M787.42 259.03L805.82 277.43M787.42 277.43L805.82 259.03M797.23 260.41L815.63 278.81M797.23 278.81L815.63 260.41M807.05 261.81L825.45 280.21M807.05 280.21L825.45 261.81M816.86 263.2L835.26 281.6M816.86 281.6L835.26 263.2M826.68 264.58L845.08 282.98M826.68 282.98L845.08 264.58M836.49 265.94L854.89 284.34M836.49 284.34L854.89 265.94M846.31 267.26L864.71 285.66M846.31 285.66L864.71 267.26M856.12 268.54L874.52 286.94M856.12 286.94L874.52 268.54M865.94 269.77L884.34 288.17M865.94 288.17L884.34 269.77M875.75 270.94L894.15 289.34M875.75 289.34L894.15 270.94M885.57 272.04L903.97 290.44M885.57 290.44L903.97 272.04M895.38 273.07L913.78 291.47M895.38 291.47L913.78 273.07M905.2 274.05L923.6 292.45M905.2 292.45L923.6 274.05M915.01 274.98L933.41 293.38M915.01 293.38L933.41 274.98M924.82 275.88L943.22 294.28M924.82 294.28L943.22 275.88M934.64 276.76L953.04 295.16M934.64 295.16L953.04 276.76M944.45 277.62L962.85 296.02M944.45 296.02L962.85 277.62M954.27 278.47L972.67 296.87M954.27 296.87L972.67 278.47M964.08 279.33L982.48 297.73M964.08 297.73L982.48 279.33M973.9 280.21L992.3 298.61M973.9 298.61L992.3 280.21M983.71 281.1L1002.11 299.5M983.71 299.5L1002.11 281.1M993.53 282.01L1011.93 300.41M993.53 300.41L1011.93 282.01M1003.34 282.92L1021.74 301.32M1003.34 301.32L1021.74 282.92M1013.16 283.84L1031.56 302.24M1013.16 302.24L1031.56 283.84M1022.97 284.75L1041.37 303.15M1022.97 303.15L1041.37 284.75M1032.79 285.65L1051.19 304.05M1032.79 304.05L1051.19 285.65M1042.6 286.52L1061 304.92M1042.6 304.92L1061 286.52M1052.41 287.36L1070.81 305.76M1052.41 305.76L1070.81 287.36M1062.23 288.17L1080.63 306.57M1062.23 306.57L1080.63 288.17M1072.04 288.93L1090.44 307.33M1072.04 307.33L1090.44 288.93M1081.86 289.64L1100.26 308.04M1081.86 308.04L1100.26 289.64M1091.67 290.3L1110.07 308.7M1091.67 308.7L1110.07 290.3M1101.49 290.91L1119.89 309.31M1101.49 309.31L1119.89 290.91M1111.3 291.47L1129.7 309.87M1111.3 309.87L1129.7 291.47M1121.12 291.99L1139.52 310.39M1121.12 310.39L1139.52 291.99M1130.93 292.46L1149.33 310.86M1130.93 310.86L1149.33 292.46M1140.75 292.89L1159.15 311.29M1140.75 311.29L1159.15 292.89M1150.56 293.28L1168.96 311.68M1150.56 311.68L1168.96 293.28M1160.38 293.63L1178.78 312.03M1160.38 312.03L1178.78 293.63M1170.19 293.94L1188.59 312.34M1170.19 312.34L1188.59 293.94M1180 294.21L1198.4 312.61M1180 312.61L1198.4 294.21M1189.82 294.45L1208.22 312.85M1189.82 312.85L1208.22 294.45M1199.63 294.65L1218.03 313.05M1199.63 313.05L1218.03 294.65M1209.45 294.8L1227.85 313.2M1209.45 313.2L1227.85 294.8M1219.26 294.9L1237.66 313.3M1219.26 313.3L1237.66 294.9M1229.08 294.96L1247.48 313.36M1229.08 313.36L1247.48 294.96M1238.89 294.97L1257.29 313.37M1238.89 313.37L1257.29 294.97M1248.71 294.92L1267.11 313.32M1248.71 313.32L1267.11 294.92M1258.52 294.82L1276.92 313.22M1258.52 313.22L1276.92 294.82M1268.34 294.66L1286.74 313.06M1268.34 313.06L1286.74 294.66M1278.15 294.44L1296.55 312.84M1278.15 312.84L1296.55 294.44M1287.97 294.17L1306.37 312.57M1287.97 312.57L1306.37 294.17M1297.78 293.85L1316.18 312.25M1297.78 312.25L1316.18 293.85M1307.6 293.48L1326 311.88M1307.6 311.88L1326 293.48M1317.41 293.08L1335.81 311.48M1317.41 311.48L1335.81 293.08M1327.22 292.66L1345.62 311.06M1327.22 311.06L1345.62 292.66M1337.04 292.21L1355.44 310.61M1337.04 310.61L1355.44 292.21M1346.85 291.74L1365.25 310.14M1346.85 310.14L1365.25 291.74M1356.67 291.27L1375.07 309.67M1356.67 309.67L1375.07 291.27M1366.48 290.79L1384.88 309.19M1366.48 309.19L1384.88 290.79M1376.3 290.32L1394.7 308.72M1376.3 308.72L1394.7 290.32M1386.11 289.84L1404.51 308.24M1386.11 308.24L1404.51 289.84M1395.93 289.36L1414.33 307.76M1395.93 307.76L1414.33 289.36M1405.74 288.88L1424.14 307.28M1405.74 307.28L1424.14 288.88M1415.56 288.39L1433.96 306.79M1415.56 306.79L1433.96 288.39M1425.37 287.89L1443.77 306.29M1425.37 306.29L1443.77 287.89M1435.19 287.37L1453.59 305.77M1435.19 305.77L1453.59 287.37M1445 286.84L1463.4 305.24M1445 305.24L1463.4 286.84M1454.81 286.29L1473.21 304.69M1454.81 304.69L1473.21 286.29M1464.63 285.72L1483.03 304.12M1464.63 304.12L1483.03 285.72M1474.44 285.13L1492.84 303.53M1474.44 303.53L1492.84 285.13M1484.26 284.51L1502.66 302.91M1484.26 302.91L1502.66 284.51M1494.07 283.87L1512.47 302.27M1494.07 302.27L1512.47 283.87M1503.89 283.2L1522.29 301.6M1503.89 301.6L1522.29 283.2M1513.7 282.52L1532.1 300.92M1513.7 300.92L1532.1 282.52M1523.52 281.81L1541.92 300.21M1523.52 300.21L1541.92 281.81M1533.33 281.09L1551.73 299.49M1533.33 299.49L1551.73 281.09M1543.15 280.34L1561.55 298.74M1543.15 298.74L1561.55 280.34M1552.96 279.58L1571.36 297.98M1552.96 297.98L1571.36 279.58M1562.78 278.8L1581.18 297.2M1562.78 297.2L1581.18 278.8M1572.59 278L1590.99 296.4M1572.59 296.4L1590.99 278M1582.4 277.19L1600.8 295.59M1582.4 295.59L1600.8 277.19M1592.22 276.37L1610.62 294.77M1592.22 294.77L1610.62 276.37M1602.03 275.54L1620.43 293.94M1602.03 293.94L1620.43 275.54M1611.85 274.71L1630.25 293.11M1611.85 293.11L1630.25 274.71M1621.66 273.88L1640.06 292.28M1621.66 292.28L1640.06 273.88M1631.48 273.05L1649.88 291.45M1631.48 291.45L1649.88 273.05M1641.29 272.24L1659.69 290.64M1641.29 290.64L1659.69 272.24M1651.11 271.43L1669.51 289.83M1651.11 289.83L1669.51 271.43M1660.92 270.64L1679.32 289.04M1660.92 289.04L1679.32 270.64M1670.74 269.87L1689.14 288.27M1670.74 288.27L1689.14 269.87M1680.55 269.1L1698.95 287.5M1680.55 287.5L1698.95 269.1M1690.37 268.35L1708.77 286.75M1690.37 286.75L1708.77 268.35M1700.18 267.59L1718.58 285.99M1700.18 285.99L1718.58 267.59M1710 266.83L1728.4 285.23M1710 285.23L1728.4 266.83M1719.81 266.06L1738.21 284.46M1719.81 284.46L1738.21 266.06M1729.62 265.27L1748.02 283.67M1729.62 283.67L1748.02 265.27M1739.44 264.45L1757.84 282.85M1739.44 282.85L1757.84 264.45M1749.25 263.61L1767.65 282.01M1749.25 282.01L1767.65 263.61M1759.07 262.72L1777.47 281.12M1759.07 281.12L1777.47 262.72M1768.88 261.8L1787.28 280.2M1768.88 280.2L1787.28 261.8M1778.7 260.84L1797.1 279.24M1778.7 279.24L1797.1 260.84M1788.51 259.84L1806.91 278.24M1788.51 278.24L1806.91 259.84M1798.33 258.82L1816.73 277.22M1798.33 277.22L1816.73 258.82M1808.14 257.77L1826.54 276.17M1808.14 276.17L1826.54 257.77M1817.96 256.7L1836.36 275.1M1817.96 275.1L1836.36 256.7M1827.77 255.62L1846.17 274.02M1827.77 274.02L1846.17 255.62M1837.59 254.53L1855.99 272.93M1837.59 272.93L1855.99 254.53M1847.4 253.44L1865.8 271.84M1847.4 271.84L1865.8 253.44M1857.21 252.35L1875.61 270.75M1857.21 270.75L1875.61 252.35M1867.03 251.26L1885.43 269.66M1867.03 269.66L1885.43 251.26M1876.84 250.17L1895.24 268.57M1876.84 268.57L1895.24 250.17M1886.66 249.1L1905.06 267.5M1886.66 267.5L1905.06 249.1M1896.47 248.02L1914.87 266.42M1896.47 266.42L1914.87 248.02M1906.29 246.95L1924.69 265.35M1906.29 265.35L1924.69 246.95M1916.1 245.88L1934.5 264.28M1916.1 264.28L1934.5 245.88M1925.92 244.81L1944.32 263.21M1925.92 263.21L1944.32 244.81M1935.73 243.74L1954.13 262.14M1935.73 262.14L1954.13 243.74M1945.55 242.68L1963.95 261.08M1945.55 261.08L1963.95 242.68M1955.36 241.61L1973.76 260.01M1955.36 260.01L1973.76 241.61" stroke="#EDB120" stroke-width="2.1" fill="none"/>
<path d="M292.59 305.03H319.19M305.89 291.73V318.33M296.69 295.83L315.09 314.23M296.69 314.23L315.09 295.83M302.4 306.87H329M315.7 293.57V320.17M306.5 297.67L324.9 316.07M306.5 316.07L324.9 297.67M312.22 308.71H338.82M325.52 295.41V322.01M316.32 299.51L334.72 317.91M316.32 317.91L334.72 299.51M322.03 310.55H348.63M335.33 297.25V323.85M326.13 301.35L344.53 319.75M326.13 319.75L344.53 301.35M331.85 312.38H358.45M345.15 299.08V325.68M335.95 303.18L354.35 321.58M335.95 321.58L354.35 303.18M341.66 314.22H368.26M354.96 300.92V327.52M345.76 305.02L364.16 323.42M345.76 323.42L364.16 305.02M351.48 316.06H378.08M364.78 302.76V329.36M355.58 306.86L373.98 325.26M355.58 325.26L373.98 306.86M361.29 317.89H387.89M374.59 304.59V331.19M365.39 308.69L383.79 327.09M365.39 327.09L383.79 308.69M371.1 319.72H397.7M384.4 306.42V333.02M375.2 310.52L393.6 328.92M375.2 328.92L393.6 310.52M380.92 321.55H407.52M394.22 308.25V334.85M385.02 312.35L403.42 330.75M385.02 330.75L403.42 312.35M390.73 323.38H417.33M404.03 310.08V336.68M394.83 314.18L413.23 332.58M394.83 332.58L413.23 314.18M400.55 325.21H427.15M413.85 311.91V338.51M404.65 316.01L423.05 334.41M404.65 334.41L423.05 316.01M410.36 327.06H436.96M423.66 313.76V340.36M414.46 317.86L432.86 336.26M414.46 336.26L432.86 317.86M420.18 328.91H446.78M433.48 315.61V342.21M424.28 319.71L442.68 338.11M424.28 338.11L442.68 319.71M429.99 330.78H456.59M443.29 317.48V344.08M434.09 321.58L452.49 339.98M434.09 339.98L452.49 321.58M439.81 332.68H466.41M453.11 319.38V345.98M443.91 323.48L462.31 341.88M443.91 341.88L462.31 323.48M449.62 334.61H476.22M462.92 321.31V347.91M453.72 325.41L472.12 343.81M453.72 343.81L472.12 325.41M459.44 336.57H486.04M472.74 323.27V349.87M463.54 327.37L481.94 345.77M463.54 345.77L481.94 327.37M469.25 338.58H495.85M482.55 325.28V351.88M473.35 329.38L491.75 347.78M473.35 347.78L491.75 329.38M479.07 340.62H505.67M492.37 327.32V353.92M483.17 331.42L501.57 349.82M483.17 349.82L501.57 331.42M488.88 342.72H515.48M502.18 329.42V356.02M492.98 333.52L511.38 351.92M492.98 351.92L511.38 333.52M498.7 344.86H525.3M512 331.56V358.16M502.8 335.66L521.2 354.06M502.8 354.06L521.2 335.66M508.51 347.05H535.11M521.81 333.75V360.35M512.61 337.85L531.01 356.25M512.61 356.25L531.01 337.85M518.32 349.26H544.92M531.62 335.96V362.56M522.42 340.06L540.82 358.46M522.42 358.46L540.82 340.06M528.14 351.51H554.74M541.44 338.21V364.81M532.24 342.31L550.64 360.71M532.24 360.71L550.64 342.31M537.95 353.78H564.55M551.25 340.48V367.08M542.05 344.58L560.45 362.98M542.05 362.98L560.45 344.58M547.77 356.06H574.37M561.07 342.76V369.36M551.87 346.86L570.27 365.26M551.87 365.26L570.27 346.86M557.58 358.36H584.18M570.88 345.06V371.66M561.68 349.16L580.08 367.56M561.68 367.56L580.08 349.16M567.4 360.66H594M580.7 347.36V373.96M571.5 351.46L589.9 369.86M571.5 369.86L589.9 351.46M577.21 362.97H603.81M590.51 349.67V376.27M581.31 353.77L599.71 372.17M581.31 372.17L599.71 353.77M587.03 365.26H613.63M600.33 351.96V378.56M591.13 356.06L609.53 374.46M591.13 374.46L609.53 356.06M596.84 367.55H623.44M610.14 354.25V380.85M600.94 358.35L619.34 376.75M600.94 376.75L619.34 358.35M606.66 369.83H633.26M619.96 356.53V383.13M610.76 360.63L629.16 379.03M610.76 379.03L629.16 360.63M616.47 372.08H643.07M629.77 358.78V385.38M620.57 362.88L638.97 381.28M620.57 381.28L638.97 362.88M626.29 374.31H652.89M639.59 361.01V387.61M630.39 365.11L648.79 383.51M630.39 383.51L648.79 365.11M636.1 376.5H662.7M649.4 363.2V389.8M640.2 367.3L658.6 385.7M640.2 385.7L658.6 367.3M645.91 378.66H672.51M659.21 365.36V391.96M650.01 369.46L668.41 387.86M650.01 387.86L668.41 369.46M655.73 380.77H682.33M669.03 367.47V394.07M659.83 371.57L678.23 389.97M659.83 389.97L678.23 371.57M665.54 382.84H692.14M678.84 369.54V396.14M669.64 373.64L688.04 392.04M669.64 392.04L688.04 373.64M675.36 384.86H701.96M688.66 371.56V398.16M679.46 375.66L697.86 394.06M679.46 394.06L697.86 375.66M685.17 386.81H711.77M698.47 373.51V400.11M689.27 377.61L707.67 396.01M689.27 396.01L707.67 377.61M694.99 388.72H721.59M708.29 375.42V402.02M699.09 379.52L717.49 397.92M699.09 397.92L717.49 379.52M704.8 390.58H731.4M718.1 377.28V403.88M708.9 381.38L727.3 399.78M708.9 399.78L727.3 381.38M714.62 392.41H741.22M727.92 379.11V405.71M718.72 383.21L737.12 401.61M718.72 401.61L737.12 383.21M724.43 394.21H751.03M737.73 380.91V407.51M728.53 385.01L746.93 403.41M728.53 403.41L746.93 385.01M734.25 395.99H760.85M747.55 382.69V409.29M738.35 386.79L756.75 405.19M738.35 405.19L756.75 386.79M744.06 397.76H770.66M757.36 384.46V411.06M748.16 388.56L766.56 406.96M748.16 406.96L766.56 388.56M753.88 399.52H780.48M767.18 386.22V412.82M757.98 390.32L776.38 408.72M757.98 408.72L776.38 390.32M763.69 401.28H790.29M776.99 387.98V414.58M767.79 392.08L786.19 410.48M767.79 410.48L786.19 392.08M773.5 403.06H800.1M786.8 389.76V416.36M777.6 393.86L796 412.26M777.6 412.26L796 393.86M783.32 404.85H809.92M796.62 391.55V418.15M787.42 395.65L805.82 414.05M787.42 414.05L805.82 395.65M793.13 406.66H819.73M806.43 393.36V419.96M797.23 397.46L815.63 415.86M797.23 415.86L815.63 397.46M802.95 408.47H829.55M816.25 395.17V421.77M807.05 399.27L825.45 417.67M807.05 417.67L825.45 399.27M812.76 410.29H839.36M826.06 396.99V423.59M816.86 401.09L835.26 419.49M816.86 419.49L835.26 401.09M822.58 412.12H849.18M835.88 398.82V425.42M826.68 402.92L845.08 421.32M826.68 421.32L845.08 402.92M832.39 413.94H858.99M845.69 400.64V427.24M836.49 404.74L854.89 423.14M836.49 423.14L854.89 404.74M842.21 415.76H868.81M855.51 402.46V429.06M846.31 406.56L864.71 424.96M846.31 424.96L864.71 406.56M852.02 417.57H878.62M865.32 404.27V430.87M856.12 408.37L874.52 426.77M856.12 426.77L874.52 408.37M861.84 419.36H888.44M875.14 406.06V432.66M865.94 410.16L884.34 428.56M865.94 428.56L884.34 410.16M871.65 421.14H898.25M884.95 407.84V434.44M875.75 411.94L894.15 430.34M875.75 430.34L894.15 411.94M881.47 422.9H908.07M894.77 409.6V436.2M885.57 413.7L903.97 432.1M885.57 432.1L903.97 413.7M891.28 424.63H917.88M904.58 411.33V437.93M895.38 415.43L913.78 433.83M895.38 433.83L913.78 415.43M901.1 426.35H927.7M914.4 413.05V439.65M905.2 417.15L923.6 435.55M905.2 435.55L923.6 417.15M910.91 428.04H937.51M924.21 414.74V441.34M915.01 418.84L933.41 437.24M915.01 437.24L933.41 418.84M920.72 429.72H947.32M934.02 416.42V443.02M924.82 420.52L943.22 438.92M924.82 438.92L943.22 420.52M930.54 431.37H957.14M943.84 418.07V444.67M934.64 422.17L953.04 440.57M934.64 440.57L953.04 422.17M940.35 433H966.95M953.65 419.7V446.3M944.45 423.8L962.85 442.2M944.45 442.2L962.85 423.8M950.17 434.62H976.77M963.47 421.32V447.92M954.27 425.42L972.67 443.82M954.27 443.82L972.67 425.42M959.98 436.21H986.58M973.28 422.91V449.51M964.08 427.01L982.48 445.41M964.08 445.41L982.48 427.01M969.8 437.78H996.4M983.1 424.48V451.08M973.9 428.58L992.3 446.98M973.9 446.98L992.3 428.58M979.61 439.34H1006.21M992.91 426.04V452.64M983.71 430.14L1002.11 448.54M983.71 448.54L1002.11 430.14M989.43 440.86H1016.03M1002.73 427.56V454.16M993.53 431.66L1011.93 450.06M993.53 450.06L1011.93 431.66M999.24 442.35H1025.84M1012.54 429.05V455.65M1003.34 433.15L1021.74 451.55M1003.34 451.55L1021.74 433.15M1009.06 443.8H1035.66M1022.36 430.5V457.1M1013.16 434.6L1031.56 453M1013.16 453L1031.56 434.6M1018.87 445.2H1045.47M1032.17 431.9V458.5M1022.97 436L1041.37 454.4M1022.97 454.4L1041.37 436M1028.69 446.54H1055.29M1041.99 433.24V459.84M1032.79 437.34L1051.19 455.74M1032.79 455.74L1051.19 437.34M1038.5 447.8H1065.1M1051.8 434.5V461.1M1042.6 438.6L1061 457M1042.6 457L1061 438.6M1048.31 449H1074.91M1061.61 435.7V462.3M1052.41 439.8L1070.81 458.2M1052.41 458.2L1070.81 439.8M1058.13 450.11H1084.73M1071.43 436.81V463.41M1062.23 440.91L1080.63 459.31M1062.23 459.31L1080.63 440.91M1067.94 451.13H1094.54M1081.24 437.83V464.43M1072.04 441.93L1090.44 460.33M1072.04 460.33L1090.44 441.93M1077.76 452.05H1104.36M1091.06 438.75V465.35M1081.86 442.85L1100.26 461.25M1081.86 461.25L1100.26 442.85M1087.57 452.88H1114.17M1100.87 439.58V466.18M1091.67 443.68L1110.07 462.08M1091.67 462.08L1110.07 443.68M1097.39 453.62H1123.99M1110.69 440.32V466.92M1101.49 444.42L1119.89 462.82M1101.49 462.82L1119.89 444.42M1107.2 454.28H1133.8M1120.5 440.98V467.58M1111.3 445.08L1129.7 463.48M1111.3 463.48L1129.7 445.08M1117.02 454.86H1143.62M1130.32 441.56V468.16M1121.12 445.66L1139.52 464.06M1121.12 464.06L1139.52 445.66M1126.83 455.37H1153.43M1140.13 442.07V468.67M1130.93 446.17L1149.33 464.57M1130.93 464.57L1149.33 446.17M1136.65 455.82H1163.25M1149.95 442.52V469.12M1140.75 446.62L1159.15 465.02M1140.75 465.02L1159.15 446.62M1146.46 456.2H1173.06M1159.76 442.9V469.5M1150.56 447L1168.96 465.4M1150.56 465.4L1168.96 447M1156.28 456.54H1182.88M1169.58 443.24V469.84M1160.38 447.34L1178.78 465.74M1160.38 465.74L1178.78 447.34M1166.09 456.83H1192.69M1179.39 443.53V470.13M1170.19 447.63L1188.59 466.03M1170.19 466.03L1188.59 447.63M1175.9 457.07H1202.5M1189.2 443.77V470.37M1180 447.87L1198.4 466.27M1180 466.27L1198.4 447.87M1185.72 457.27H1212.32M1199.02 443.97V470.57M1189.82 448.07L1208.22 466.47M1189.82 466.47L1208.22 448.07M1195.53 457.42H1222.13M1208.83 444.12V470.72M1199.63 448.22L1218.03 466.62M1199.63 466.62L1218.03 448.22M1205.35 457.52H1231.95M1218.65 444.22V470.82M1209.45 448.32L1227.85 466.72M1209.45 466.72L1227.85 448.32M1215.16 457.56H1241.76M1228.46 444.26V470.86M1219.26 448.36L1237.66 466.76M1219.26 466.76L1237.66 448.36M1224.98 457.54H1251.58M1238.28 444.24V470.84M1229.08 448.34L1247.48 466.74M1229.08 466.74L1247.48 448.34M1234.79 457.47H1261.39M1248.09 444.17V470.77M1238.89 448.27L1257.29 466.67M1238.89 466.67L1257.29 448.27M1244.61 457.32H1271.21M1257.91 444.02V470.62M1248.71 448.12L1267.11 466.52M1248.71 466.52L1267.11 448.12M1254.42 457.11H1281.02M1267.72 443.81V470.41M1258.52 447.91L1276.92 466.31M1258.52 466.31L1276.92 447.91M1264.24 456.83H1290.84M1277.54 443.53V470.13M1268.34 447.63L1286.74 466.03M1268.34 466.03L1286.74 447.63M1274.05 456.47H1300.65M1287.35 443.17V469.77M1278.15 447.27L1296.55 465.67M1278.15 465.67L1296.55 447.27M1283.87 456.04H1310.47M1297.17 442.74V469.34M1287.97 446.84L1306.37 465.24M1287.97 465.24L1306.37 446.84M1293.68 455.55H1320.28M1306.98 442.25V468.85M1297.78 446.35L1316.18 464.75M1297.78 464.75L1316.18 446.35M1303.5 455H1330.1M1316.8 441.7V468.3M1307.6 445.8L1326 464.2M1307.6 464.2L1326 445.8M1313.31 454.39H1339.91M1326.61 441.09V467.69M1317.41 445.19L1335.81 463.59M1317.41 463.59L1335.81 445.19M1323.12 453.75H1349.72M1336.42 440.45V467.05M1327.22 444.55L1345.62 462.95M1327.22 462.95L1345.62 444.55M1332.94 453.06H1359.54M1346.24 439.76V466.36M1337.04 443.86L1355.44 462.26M1337.04 462.26L1355.44 443.86M1342.75 452.34H1369.35M1356.05 439.04V465.64M1346.85 443.14L1365.25 461.54M1346.85 461.54L1365.25 443.14M1352.57 451.6H1379.17M1365.87 438.3V464.9M1356.67 442.4L1375.07 460.8M1356.67 460.8L1375.07 442.4M1362.38 450.83H1388.98M1375.68 437.53V464.13M1366.48 441.63L1384.88 460.03M1366.48 460.03L1384.88 441.63M1372.2 450.05H1398.8M1385.5 436.75V463.35M1376.3 440.85L1394.7 459.25M1376.3 459.25L1394.7 440.85M1382.01 449.25H1408.61M1395.31 435.95V462.55M1386.11 440.05L1404.51 458.45M1386.11 458.45L1404.51 440.05M1391.83 448.44H1418.43M1405.13 435.14V461.74M1395.93 439.24L1414.33 457.64M1395.93 457.64L1414.33 439.24M1401.64 447.61H1428.24M1414.94 434.31V460.91M1405.74 438.41L1424.14 456.81M1405.74 456.81L1424.14 438.41M1411.46 446.78H1438.06M1424.76 433.48V460.08M1415.56 437.58L1433.96 455.98M1415.56 455.98L1433.96 437.58M1421.27 445.93H1447.87M1434.57 432.63V459.23M1425.37 436.73L1443.77 455.13M1425.37 455.13L1443.77 436.73M1431.09 445.07H1457.69M1444.39 431.77V458.37M1435.19 435.87L1453.59 454.27M1435.19 454.27L1453.59 435.87M1440.9 444.2H1467.5M1454.2 430.9V457.5M1445 435L1463.4 453.4M1445 453.4L1463.4 435M1450.71 443.32H1477.31M1464.01 430.02V456.62M1454.81 434.12L1473.21 452.52M1454.81 452.52L1473.21 434.12M1460.53 442.43H1487.13M1473.83 429.13V455.73M1464.63 433.23L1483.03 451.63M1464.63 451.63L1483.03 433.23M1470.34 441.53H1496.94M1483.64 428.23V454.83M1474.44 432.33L1492.84 450.73M1474.44 450.73L1492.84 432.33M1480.16 440.62H1506.76M1493.46 427.32V453.92M1484.26 431.42L1502.66 449.82M1484.26 449.82L1502.66 431.42M1489.97 439.67H1516.57M1503.27 426.37V452.97M1494.07 430.47L1512.47 448.87M1494.07 448.87L1512.47 430.47M1499.79 438.69H1526.39M1513.09 425.39V451.99M1503.89 429.49L1522.29 447.89M1503.89 447.89L1522.29 429.49M1509.6 437.67H1536.2M1522.9 424.37V450.97M1513.7 428.47L1532.1 446.87M1513.7 446.87L1532.1 428.47M1519.42 436.6H1546.02M1532.72 423.3V449.9M1523.52 427.4L1541.92 445.8M1523.52 445.8L1541.92 427.4M1529.23 435.47H1555.83M1542.53 422.17V448.77M1533.33 426.27L1551.73 444.67M1533.33 444.67L1551.73 426.27M1539.05 434.27H1565.65M1552.35 420.97V447.57M1543.15 425.07L1561.55 443.47M1543.15 443.47L1561.55 425.07M1548.86 433H1575.46M1562.16 419.7V446.3M1552.96 423.8L1571.36 442.2M1552.96 442.2L1571.36 423.8M1558.68 431.64H1585.28M1571.98 418.34V444.94M1562.78 422.44L1581.18 440.84M1562.78 440.84L1581.18 422.44M1568.49 430.19H1595.09M1581.79 416.89V443.49M1572.59 420.99L1590.99 439.39M1572.59 439.39L1590.99 420.99M1578.3 428.66H1604.9M1591.6 415.36V441.96M1582.4 419.46L1600.8 437.86M1582.4 437.86L1600.8 419.46M1588.12 427.07H1614.72M1601.42 413.77V440.37M1592.22 417.87L1610.62 436.27M1592.22 436.27L1610.62 417.87M1597.93 425.44H1624.53M1611.23 412.14V438.74M1602.03 416.24L1620.43 434.64M1602.03 434.64L1620.43 416.24M1607.75 423.78H1634.35M1621.05 410.48V437.08M1611.85 414.58L1630.25 432.98M1611.85 432.98L1630.25 414.58M1617.56 422.11H1644.16M1630.86 408.81V435.41M1621.66 412.91L1640.06 431.31M1621.66 431.31L1640.06 412.91M1627.38 420.45H1653.98M1640.68 407.15V433.75M1631.48 411.25L1649.88 429.65M1631.48 429.65L1649.88 411.25M1637.19 418.8H1663.79M1650.49 405.5V432.1M1641.29 409.6L1659.69 428M1641.29 428L1659.69 409.6M1647.01 417.2H1673.61M1660.31 403.9V430.5M1651.11 408L1669.51 426.4M1651.11 426.4L1669.51 408M1656.82 415.65H1683.42M1670.12 402.35V428.95M1660.92 406.45L1679.32 424.85M1660.92 424.85L1679.32 406.45M1666.64 414.17H1693.24M1679.94 400.87V427.47M1670.74 404.97L1689.14 423.37M1670.74 423.37L1689.14 404.97M1676.45 412.75H1703.05M1689.75 399.45V426.05M1680.55 403.55L1698.95 421.95M1680.55 421.95L1698.95 403.55M1686.27 411.38H1712.87M1699.57 398.08V424.68M1690.37 402.18L1708.77 420.58M1690.37 420.58L1708.77 402.18M1696.08 410.03H1722.68M1709.38 396.73V423.33M1700.18 400.83L1718.58 419.23M1700.18 419.23L1718.58 400.83M1705.9 408.71H1732.5M1719.2 395.41V422.01M1710 399.51L1728.4 417.91M1710 417.91L1728.4 399.51M1715.71 407.4H1742.31M1729.01 394.1V420.7M1719.81 398.2L1738.21 416.6M1719.81 416.6L1738.21 398.2M1725.52 406.08H1752.12M1738.82 392.78V419.38M1729.62 396.88L1748.02 415.28M1729.62 415.28L1748.02 396.88M1735.34 404.74H1761.94M1748.64 391.44V418.04M1739.44 395.54L1757.84 413.94M1739.44 413.94L1757.84 395.54M1745.15 403.37H1771.75M1758.45 390.07V416.67M1749.25 394.17L1767.65 412.57M1749.25 412.57L1767.65 394.17M1754.97 401.95H1781.57M1768.27 388.65V415.25M1759.07 392.75L1777.47 411.15M1759.07 411.15L1777.47 392.75M1764.78 400.48H1791.38M1778.08 387.18V413.78M1768.88 391.28L1787.28 409.68M1768.88 409.68L1787.28 391.28M1774.6 398.96H1801.2M1787.9 385.66V412.26M1778.7 389.76L1797.1 408.16M1778.7 408.16L1797.1 389.76M1784.41 397.39H1811.01M1797.71 384.09V410.69M1788.51 388.19L1806.91 406.59M1788.51 406.59L1806.91 388.19M1794.23 395.79H1820.83M1807.53 382.49V409.09M1798.33 386.59L1816.73 404.99M1798.33 404.99L1816.73 386.59M1804.04 394.15H1830.64M1817.34 380.85V407.45M1808.14 384.95L1826.54 403.35M1808.14 403.35L1826.54 384.95M1813.86 392.49H1840.46M1827.16 379.19V405.79M1817.96 383.29L1836.36 401.69M1817.96 401.69L1836.36 383.29M1823.67 390.82H1850.27M1836.97 377.52V404.12M1827.77 381.62L1846.17 400.02M1827.77 400.02L1846.17 381.62M1833.49 389.13H1860.09M1846.79 375.83V402.43M1837.59 379.93L1855.99 398.33M1837.59 398.33L1855.99 379.93M1843.3 387.44H1869.9M1856.6 374.14V400.74M1847.4 378.24L1865.8 396.64M1847.4 396.64L1865.8 378.24M1853.11 385.76H1879.71M1866.41 372.46V399.06M1857.21 376.56L1875.61 394.96M1857.21 394.96L1875.61 376.56M1862.93 384.08H1889.53M1876.23 370.78V397.38M1867.03 374.88L1885.43 393.28M1867.03 393.28L1885.43 374.88M1872.74 382.41H1899.34M1886.04 369.11V395.71M1876.84 373.21L1895.24 391.61M1876.84 391.61L1895.24 373.21M1882.56 380.75H1909.16M1895.86 367.45V394.05M1886.66 371.55L1905.06 389.95M1886.66 389.95L1905.06 371.55M1892.37 379.09H1918.97M1905.67 365.79V392.39M1896.47 369.89L1914.87 388.29M1896.47 388.29L1914.87 369.89M1902.19 377.45H1928.79M1915.49 364.15V390.75M1906.29 368.25L1924.69 386.65M1906.29 386.65L1924.69 368.25M1912 375.8H1938.6M1925.3 362.5V389.1M1916.1 366.6L1934.5 385M1916.1 385L1934.5 366.6M1921.82 374.17H1948.42M1935.12 360.87V387.47M1925.92 364.97L1944.32 383.37M1925.92 383.37L1944.32 364.97M1931.63 372.53H1958.23M1944.93 359.23V385.83M1935.73 363.33L1954.13 381.73M1935.73 381.73L1954.13 363.33M1941.45 370.9H1968.05M1954.75 357.6V384.2M1945.55 361.7L1963.95 380.1M1945.55 380.1L1963.95 361.7M1951.26 369.26H1977.86M1964.56 355.96V382.56M1955.36 360.06L1973.76 378.46M1955.36 378.46L1973.76 360.06" stroke="#7E2F8E" stroke-width="2.1" fill="none"/>
<path d="M296.69 490.75L315.09 509.15M296.69 509.15L315.09 490.75M306.5 492.96L324.9 511.36M306.5 511.36L324.9 492.96M316.32 495.17L334.72 513.57M316.32 513.57L334.72 495.17M326.13 497.38L344.53 515.78M326.13 515.78L344.53 497.38M335.95 499.6L354.35 518M335.95 518L354.35 499.6M345.76 501.83L364.16 520.23M345.76 520.23L364.16 501.83M355.58 504.08L373.98 522.48M355.58 522.48L373.98 504.08M365.39 506.33L383.79 524.73M365.39 524.73L383.79 506.33M375.2 508.61L393.6 527.01M375.2 527.01L393.6 508.61M385.02 510.9L403.42 529.3M385.02 529.3L403.42 510.9M394.83 513.21L413.23 531.61M394.83 531.61L413.23 513.21M404.65 515.55L423.05 533.95M404.65 533.95L423.05 515.55M414.46 517.9L432.86 536.3M414.46 536.3L432.86 517.9M424.28 520.27L442.68 538.67M424.28 538.67L442.68 520.27M434.09 522.65L452.49 541.05M434.09 541.05L452.49 522.65M443.91 525.05L462.31 543.45M443.91 543.45L462.31 525.05M453.72 527.46L472.12 545.86M453.72 545.86L472.12 527.46M463.54 529.89L481.94 548.29M463.54 548.29L481.94 529.89M473.35 532.32L491.75 550.72M473.35 550.72L491.75 532.32M483.17 534.77L501.57 553.17M483.17 553.17L501.57 534.77M492.98 537.22L511.38 555.62M492.98 555.62L511.38 537.22M502.8 539.68L521.2 558.08M502.8 558.08L521.2 539.68M512.61 542.12L531.01 560.52M512.61 560.52L531.01 542.12M522.42 544.56L540.82 562.96M522.42 562.96L540.82 544.56M532.24 546.98L550.64 565.38M532.24 565.38L550.64 546.98M542.05 549.37L560.45 567.77M542.05 567.77L560.45 549.37M551.87 551.74L570.27 570.14M551.87 570.14L570.27 551.74M561.68 554.06L580.08 572.46M561.68 572.46L580.08 554.06M571.5 556.35L589.9 574.75M571.5 574.75L589.9 556.35M581.31 558.58L599.71 576.98M581.31 576.98L599.71 558.58M591.13 560.76L609.53 579.16M591.13 579.16L609.53 560.76M600.94 562.87L619.34 581.27M600.94 581.27L619.34 562.87M610.76 564.93L629.16 583.33M610.76 583.33L629.16 564.93M620.57 566.94L638.97 585.34M620.57 585.34L638.97 566.94M630.39 568.88L648.79 587.28M630.39 587.28L648.79 568.88M640.2 570.76L658.6 589.16M640.2 589.16L658.6 570.76M650.01 572.58L668.41 590.98M650.01 590.98L668.41 572.58M659.83 574.33L678.23 592.73M659.83 592.73L678.23 574.33M669.64 576.02L688.04 594.42M669.64 594.42L688.04 576.02M679.46 577.65L697.86 596.05M679.46 596.05L697.86 577.65M689.27 579.22L707.67 597.62M689.27 597.62L707.67 579.22M699.09 580.72L717.49 599.12M699.09 599.12L717.49 580.72M708.9 582.18L727.3 600.58M708.9 600.58L727.3 582.18M718.72 583.59L737.12 601.99M718.72 601.99L737.12 583.59M728.53 584.97L746.93 603.37M728.53 603.37L746.93 584.97M738.35 586.32L756.75 604.72M738.35 604.72L756.75 586.32M748.16 587.64L766.56 606.04M748.16 606.04L766.56 587.64M757.98 588.96L776.38 607.36M757.98 607.36L776.38 588.96M767.79 590.26L786.19 608.66M767.79 608.66L786.19 590.26M777.6 591.57L796 609.97M777.6 609.97L796 591.57M787.42 592.87L805.82 611.27M787.42 611.27L805.82 592.87M797.23 594.18L815.63 612.58M797.23 612.58L815.63 594.18M807.05 595.47L825.45 613.87M807.05 613.87L825.45 595.47M816.86 596.73L835.26 615.13M816.86 615.13L835.26 596.73M826.68 597.96L845.08 616.36M826.68 616.36L845.08 597.96M836.49 599.14L854.89 617.54M836.49 617.54L854.89 599.14M846.31 600.26L864.71 618.66M846.31 618.66L864.71 600.26M856.12 601.32L874.52 619.72M856.12 619.72L874.52 601.32M865.94 602.29L884.34 620.69M865.94 620.69L884.34 602.29M875.75 603.17L894.15 621.57M875.75 621.57L894.15 603.17M885.57 603.95L903.97 622.35M885.57 622.35L903.97 603.95M895.38 604.64L913.78 623.04M895.38 623.04L913.78 604.64M905.2 605.24L923.6 623.64M905.2 623.64L923.6 605.24M915.01 605.75L933.41 624.15M915.01 624.15L933.41 605.75M924.82 606.19L943.22 624.59M924.82 624.59L943.22 606.19M934.64 606.56L953.04 624.96M934.64 624.96L953.04 606.56M944.45 606.86L962.85 625.26M944.45 625.26L962.85 606.86M954.27 607.11L972.67 625.51M954.27 625.51L972.67 607.11M964.08 607.31L982.48 625.71M964.08 625.71L982.48 607.31M973.9 607.46L992.3 625.86M973.9 625.86L992.3 607.46M983.71 607.57L1002.11 625.97M983.71 625.97L1002.11 607.57M993.53 607.64L1011.93 626.04M993.53 626.04L1011.93 607.64M1003.34 607.66L1021.74 626.06M1003.34 626.06L1021.74 607.66M1013.16 607.63L1031.56 626.03M1013.16 626.03L1031.56 607.63M1022.97 607.55L1041.37 625.95M1022.97 625.95L1041.37 607.55M1032.79 607.4L1051.19 625.8M1032.79 625.8L1051.19 607.4M1042.6 607.18L1061 625.58M1042.6 625.58L1061 607.18M1052.41 606.89L1070.81 625.29M1052.41 625.29L1070.81 606.89M1062.23 606.53L1080.63 624.93M1062.23 624.93L1080.63 606.53M1072.04 606.08L1090.44 624.48M1072.04 624.48L1090.44 606.08M1081.86 605.55L1100.26 623.95M1081.86 623.95L1100.26 605.55M1091.67 604.94L1110.07 623.34M1091.67 623.34L1110.07 604.94M1101.49 604.25L1119.89 622.65M1101.49 622.65L1119.89 604.25M1111.3 603.49L1129.7 621.89M1111.3 621.89L1129.7 603.49M1121.12 602.67L1139.52 621.07M1121.12 621.07L1139.52 602.67M1130.93 601.79L1149.33 620.19M1130.93 620.19L1149.33 601.79M1140.75 600.85L1159.15 619.25M1140.75 619.25L1159.15 600.85M1150.56 599.87L1168.96 618.27M1150.56 618.27L1168.96 599.87M1160.38 598.84L1178.78 617.24M1160.38 617.24L1178.78 598.84M1170.19 597.77L1188.59 616.17M1170.19 616.17L1188.59 597.77M1180 596.67L1198.4 615.07M1180 615.07L1198.4 596.67M1189.82 595.54L1208.22 613.94M1189.82 613.94L1208.22 595.54M1199.63 594.39L1218.03 612.79M1199.63 612.79L1218.03 594.39M1209.45 593.2L1227.85 611.6M1209.45 611.6L1227.85 593.2M1219.26 592L1237.66 610.4M1219.26 610.4L1237.66 592M1229.08 590.78L1247.48 609.18M1229.08 609.18L1247.48 590.78M1238.89 589.55L1257.29 607.95M1238.89 607.95L1257.29 589.55M1248.71 588.3L1267.11 606.7M1248.71 606.7L1267.11 588.3M1258.52 587.04L1276.92 605.44M1258.52 605.44L1276.92 587.04M1268.34 585.78L1286.74 604.18M1268.34 604.18L1286.74 585.78M1278.15 584.51L1296.55 602.91M1278.15 602.91L1296.55 584.51M1287.97 583.25L1306.37 601.65M1287.97 601.65L1306.37 583.25M1297.78 581.98L1316.18 600.38M1297.78 600.38L1316.18 581.98M1307.6 580.73L1326 599.13M1307.6 599.13L1326 580.73M1317.41 579.48L1335.81 597.88M1317.41 597.88L1335.81 579.48M1327.22 578.24L1345.62 596.64M1327.22 596.64L1345.62 578.24M1337.04 577.02L1355.44 595.42M1337.04 595.42L1355.44 577.02M1346.85 575.82L1365.25 594.22M1346.85 594.22L1365.25 575.82M1356.67 574.64L1375.07 593.04M1356.67 593.04L1375.07 574.64M1366.48 573.48L1384.88 591.88M1366.48 591.88L1384.88 573.48M1376.3 572.35L1394.7 590.75M1376.3 590.75L1394.7 572.35M1386.11 571.22L1404.51 589.62M1386.11 589.62L1404.51 571.22M1395.93 570.09L1414.33 588.49M1395.93 588.49L1414.33 570.09M1405.74 568.91L1424.14 587.31M1405.74 587.31L1424.14 568.91M1415.56 567.69L1433.96 586.09M1415.56 586.09L1433.96 567.69M1425.37 566.39L1443.77 584.79M1425.37 584.79L1443.77 566.39M1435.19 565L1453.59 583.4M1435.19 583.4L1453.59 565M1445 563.5L1463.4 581.9M1445 581.9L1463.4 563.5M1454.81 561.87L1473.21 580.27M1454.81 580.27L1473.21 561.87M1464.63 560.08L1483.03 578.48M1464.63 578.48L1483.03 560.08M1474.44 558.13L1492.84 576.53M1474.44 576.53L1492.84 558.13M1484.26 556.04L1502.66 574.44M1484.26 574.44L1502.66 556.04M1494.07 553.84L1512.47 572.24M1494.07 572.24L1512.47 553.84M1503.89 551.58L1522.29 569.98M1503.89 569.98L1522.29 551.58M1513.7 549.28L1532.1 567.68M1513.7 567.68L1532.1 549.28" stroke="#77AC30" stroke-width="2.1" fill="none"/>
<path d="M292.59 687.13H319.19M305.89 673.83V700.43M296.69 677.93L315.09 696.33M296.69 696.33L315.09 677.93M302.4 688.1H329M315.7 674.8V701.4M306.5 678.9L324.9 697.3M306.5 697.3L324.9 678.9M312.22 689.07H338.82M325.52 675.77V702.37M316.32 679.87L334.72 698.27M316.32 698.27L334.72 679.87M322.03 690.04H348.63M335.33 676.74V703.34M326.13 680.84L344.53 699.24M326.13 699.24L344.53 680.84M331.85 691.03H358.45M345.15 677.73V704.33M335.95 681.83L354.35 700.23M335.95 700.23L354.35 681.83M341.66 692.04H368.26M354.96 678.74V705.34M345.76 682.84L364.16 701.24M345.76 701.24L364.16 682.84M351.48 693.06H378.08M364.78 679.76V706.36M355.58 683.86L373.98 702.26M355.58 702.26L373.98 683.86M361.29 694.1H387.89M374.59 680.8V707.4M365.39 684.9L383.79 703.3M365.39 703.3L383.79 684.9M371.1 695.18H397.7M384.4 681.88V708.48M375.2 685.98L393.6 704.38M375.2 704.38L393.6 685.98M380.92 696.28H407.52M394.22 682.98V709.58M385.02 687.08L403.42 705.48M385.02 705.48L403.42 687.08M390.73 697.41H417.33M404.03 684.11V710.71M394.83 688.21L413.23 706.61M394.83 706.61L413.23 688.21M400.55 698.56H427.15M413.85 685.26V711.86M404.65 689.36L423.05 707.76M404.65 707.76L423.05 689.36M410.36 699.72H436.96M423.66 686.42V713.02M414.46 690.52L432.86 708.92M414.46 708.92L432.86 690.52M420.18 700.87H446.78M433.48 687.57V714.17M424.28 691.67L442.68 710.07M424.28 710.07L442.68 691.67M429.99 702.01H456.59M443.29 688.71V715.31M434.09 692.81L452.49 711.21M434.09 711.21L452.49 692.81M439.81 703.11H466.41M453.11 689.81V716.41M443.91 693.91L462.31 712.31M443.91 712.31L462.31 693.91M449.62 704.16H476.22M462.92 690.86V717.46M453.72 694.96L472.12 713.36M453.72 713.36L472.12 694.96M459.44 705.16H486.04M472.74 691.86V718.46M463.54 695.96L481.94 714.36M463.54 714.36L481.94 695.96M469.25 706.08H495.85M482.55 692.78V719.38M473.35 696.88L491.75 715.28M473.35 715.28L491.75 696.88M479.07 706.92H505.67M492.37 693.62V720.22M483.17 697.72L501.57 716.12M483.17 716.12L501.57 697.72M488.88 707.66H515.48M502.18 694.36V720.96M492.98 698.46L511.38 716.86M492.98 716.86L511.38 698.46M498.7 708.31H525.3M512 695.01V721.61M502.8 699.11L521.2 717.51M502.8 717.51L521.2 699.11M508.51 708.88H535.11M521.81 695.58V722.18M512.61 699.68L531.01 718.08M512.61 718.08L531.01 699.68M518.32 709.37H544.92M531.62 696.07V722.67M522.42 700.17L540.82 718.57M522.42 718.57L540.82 700.17M528.14 709.79H554.74M541.44 696.49V723.09M532.24 700.59L550.64 718.99M532.24 718.99L550.64 700.59M537.95 710.15H564.55M551.25 696.85V723.45M542.05 700.95L560.45 719.35M542.05 719.35L560.45 700.95M547.77 710.46H574.37M561.07 697.16V723.76M551.87 701.26L570.27 719.66M551.87 719.66L570.27 701.26M557.58 710.71H584.18M570.88 697.41V724.01M561.68 701.51L580.08 719.91M561.68 719.91L580.08 701.51M567.4 710.93H594M580.7 697.63V724.23M571.5 701.73L589.9 720.13M571.5 720.13L589.9 701.73M577.21 711.12H603.81M590.51 697.82V724.42M581.31 701.92L599.71 720.32M581.31 720.32L599.71 701.92M587.03 711.28H613.63M600.33 697.98V724.58M591.13 702.08L609.53 720.48M591.13 720.48L609.53 702.08M596.84 711.41H623.44M610.14 698.11V724.71M600.94 702.21L619.34 720.61M600.94 720.61L619.34 702.21M606.66 711.51H633.26M619.96 698.21V724.81M610.76 702.31L629.16 720.71M610.76 720.71L629.16 702.31M616.47 711.58H643.07M629.77 698.28V724.88M620.57 702.38L638.97 720.78M620.57 720.78L638.97 702.38M626.29 711.6H652.89M639.59 698.3V724.9M630.39 702.4L648.79 720.8M630.39 720.8L648.79 702.4M636.1 711.58H662.7M649.4 698.28V724.88M640.2 702.38L658.6 720.78M640.2 720.78L658.6 702.38M645.91 711.51H672.51M659.21 698.21V724.81M650.01 702.31L668.41 720.71M650.01 720.71L668.41 702.31M655.73 711.39H682.33M669.03 698.09V724.69M659.83 702.19L678.23 720.59M659.83 720.59L678.23 702.19M665.54 711.21H692.14M678.84 697.91V724.51M669.64 702.01L688.04 720.41M669.64 720.41L688.04 702.01M675.36 710.97H701.96M688.66 697.67V724.27M679.46 701.77L697.86 720.17M679.46 720.17L697.86 701.77M685.17 710.67H711.77M698.47 697.37V723.97M689.27 701.47L707.67 719.87M689.27 719.87L707.67 701.47M694.99 710.31H721.59M708.29 697.01V723.61M699.09 701.11L717.49 719.51M699.09 719.51L717.49 701.11M704.8 709.9H731.4M718.1 696.6V723.2M708.9 700.7L727.3 719.1M708.9 719.1L727.3 700.7M714.62 709.44H741.22M727.92 696.14V722.74M718.72 700.24L737.12 718.64M718.72 718.64L737.12 700.24M724.43 708.94H751.03M737.73 695.64V722.24M728.53 699.74L746.93 718.14M728.53 718.14L746.93 699.74M734.25 708.41H760.85M747.55 695.11V721.71M738.35 699.21L756.75 717.61M738.35 717.61L756.75 699.21M744.06 707.85H770.66M757.36 694.55V721.15M748.16 698.65L766.56 717.05M748.16 717.05L766.56 698.65M753.88 707.26H780.48M767.18 693.96V720.56M757.98 698.06L776.38 716.46M757.98 716.46L776.38 698.06M763.69 706.66H790.29M776.99 693.36V719.96M767.79 697.46L786.19 715.86M767.79 715.86L786.19 697.46M773.5 706.04H800.1M786.8 692.74V719.34M777.6 696.84L796 715.24M777.6 715.24L796 696.84M783.32 705.42H809.92M796.62 692.12V718.72M787.42 696.22L805.82 714.62M787.42 714.62L805.82 696.22" stroke="#4DBEEE" stroke-width="2.1" fill="none"/>
<path d="M229.6 1725.78a17.4 17.4 0 1 0 34.8 0a17.4 17.4 0 1 0 -34.8 0" stroke="#0072BD" stroke-width="8.7" fill="none"/>
<path d="M631.6 1662.36H667.2M649.4 1644.56V1680.16" stroke="#D95319" stroke-width="8.7" fill="none"/>
<path d="M1039.3 1548.91L1064.3 1573.91M1039.3 1573.91L1064.3 1548.91" stroke="#EDB120" stroke-width="8.7" fill="none"/>
<path d="M1436.4 1403.42H1472M1454.2 1385.62V1421.22M1441.7 1390.92L1466.7 1415.92M1441.7 1415.92L1466.7 1390.92" stroke="#7E2F8E" stroke-width="8.7" fill="none"/>
<path d="M1844.1 1193.78L1869.1 1218.78M1844.1 1218.78L1869.1 1193.78" stroke="#77AC30" stroke-width="8.7" fill="none"/>
<polyline points="247,1725.78 649.4,1662.36 1051.8,1561.41 1454.2,1403.42 1856.6,1206.28 2259,1066.12" stroke="#A2142F" stroke-width="4.2" stroke-dasharray="13.4 12.86" fill="none"/>
<path d="M2241.2 1066.12H2276.8M2259 1048.32V1083.92M2246.5 1053.62L2271.5 1078.62M2246.5 1078.62L2271.5 1053.62" stroke="#4DBEEE" stroke-width="8.7" fill="none"/>
<rect x="1867.9" y="73.9" width="356.4" height="474.9" fill="#fff" stroke="#262626" stroke-width="2.1"/>
<path d="M1933.9 118.1a12.9 12.9 0 1 0 25.8 0a12.9 12.9 0 1 0 -25.8 0" stroke="#0072BD" stroke-width="2.1" fill="none"/>
<text font-family="'Liberation Serif','Times New Roman',serif" fill="#000" font-size="47.25"><tspan x="2021.6" y="124.2">φ</tspan><tspan x="2049.7" y="147.4" font-size="38.6">max</tspan><tspan x="2115.75" y="124.2">=</tspan><tspan x="2144.3" y="124.2">0°</tspan></text>
<path d="M1933.5 195.25H1960.1M1946.8 181.95V208.55" stroke="#D95319" stroke-width="2.1" fill="none"/>
<text font-family="'Liberation Serif','Times New Roman',serif" fill="#000" font-size="47.25"><tspan x="2021.6" y="201.35">φ</tspan><tspan x="2049.7" y="224.55" font-size="38.6">max</tspan><tspan x="2115.75" y="201.35">=</tspan><tspan x="2144.3" y="201.35">10°</tspan></text>
<path d="M1937.6 263.2L1956 281.6M1937.6 281.6L1956 263.2" stroke="#EDB120" stroke-width="2.1" fill="none"/>
<text font-family="'Liberation Serif','Times New Roman',serif" fill="#000" font-size="47.25"><tspan x="2021.6" y="278.5">φ</tspan><tspan x="2049.7" y="301.7" font-size="38.6">max</tspan><tspan x="2115.75" y="278.5">=</tspan><tspan x="2144.3" y="278.5">20°</tspan></text>
<path d="M1933.5 349.55H1960.1M1946.8 336.25V362.85M1937.6 340.35L1956 358.75M1937.6 358.75L1956 340.35" stroke="#7E2F8E" stroke-width="2.1" fill="none"/>
<text font-family="'Liberation Serif','Times New Roman',serif" fill="#000" font-size="47.25"><tspan x="2021.6" y="355.65">φ</tspan><tspan x="2049.7" y="378.85" font-size="38.6">max</tspan><tspan x="2115.75" y="355.65">=</tspan><tspan x="2144.3" y="355.65">30°</tspan></text>
<path d="M1937.6 417.5L1956 435.9M1937.6 435.9L1956 417.5" stroke="#77AC30" stroke-width="2.1" fill="none"/>
<text font-family="'Liberation Serif','Times New Roman',serif" fill="#000" font-size="47.25"><tspan x="2021.6" y="432.8">φ</tspan><tspan x="2049.7" y="456" font-size="38.6">max</tspan><tspan x="2115.75" y="432.8">=</tspan><tspan x="2144.3" y="432.8">40°</tspan></text>
<path d="M1933.5 503.85H1960.1M1946.8 490.55V517.15M1937.6 494.65L1956 513.05M1937.6 513.05L1956 494.65" stroke="#4DBEEE" stroke-width="2.1" fill="none"/>
<text font-family="'Liberation Serif','Times New Roman',serif" fill="#000" font-size="47.25"><tspan x="2021.6" y="509.95">φ</tspan><tspan x="2049.7" y="533.15" font-size="38.6">max</tspan><tspan x="2115.75" y="509.95">=</tspan><tspan x="2144.3" y="509.95">50°</tspan></text>
<rect x="1874.5" y="1233.9" width="356.4" height="474.9" fill="#fff" stroke="#262626" stroke-width="2.1"/>
<path d="M1936.1 1278.05a17.4 17.4 0 1 0 34.8 0a17.4 17.4 0 1 0 -34.8 0" stroke="#0072BD" stroke-width="8.7" fill="none"/>
<text font-family="'Liberation Serif','Times New Roman',serif" fill="#000" font-size="47.25"><tspan x="2028.2" y="1284.15">φ</tspan><tspan x="2056.3" y="1307.35" font-size="38.6">max</tspan><tspan x="2122.35" y="1284.15">=</tspan><tspan x="2150.9" y="1284.15">0°</tspan></text>
<path d="M1935.7 1355.2H1971.3M1953.5 1337.4V1373" stroke="#D95319" stroke-width="8.7" fill="none"/>
<text font-family="'Liberation Serif','Times New Roman',serif" fill="#000" font-size="47.25"><tspan x="2028.2" y="1361.3">φ</tspan><tspan x="2056.3" y="1384.5" font-size="38.6">max</tspan><tspan x="2122.35" y="1361.3">=</tspan><tspan x="2150.9" y="1361.3">10°</tspan></text>
<path d="M1941 1419.85L1966 1444.85M1941 1444.85L1966 1419.85" stroke="#EDB120" stroke-width="8.7" fill="none"/>
<text font-family="'Liberation Serif','Times New Roman',serif" fill="#000" font-size="47.25"><tspan x="2028.2" y="1438.45">φ</tspan><tspan x="2056.3" y="1461.65" font-size="38.6">max</tspan><tspan x="2122.35" y="1438.45">=</tspan><tspan x="2150.9" y="1438.45">20°</tspan></text>
<path d="M1935.7 1509.5H1971.3M1953.5 1491.7V1527.3M1941 1497L1966 1522M1941 1522L1966 1497" stroke="#7E2F8E" stroke-width="8.7" fill="none"/>
<text font-family="'Liberation Serif','Times New Roman',serif" fill="#000" font-size="47.25"><tspan x="2028.2" y="1515.6">φ</tspan><tspan x="2056.3" y="1538.8" font-size="38.6">max</tspan><tspan x="2122.35" y="1515.6">=</tspan><tspan x="2150.9" y="1515.6">30°</tspan></text>
<path d="M1941 1574.15L1966 1599.15M1941 1599.15L1966 1574.15" stroke="#77AC30" stroke-width="8.7" fill="none"/>
<text font-family="'Liberation Serif','Times New Roman',serif" fill="#000" font-size="47.25"><tspan x="2028.2" y="1592.75">φ</tspan><tspan x="2056.3" y="1615.95" font-size="38.6">max</tspan><tspan x="2122.35" y="1592.75">=</tspan><tspan x="2150.9" y="1592.75">40°</tspan></text>
<path d="M1935.7 1663.8H1971.3M1953.5 1646V1681.6M1941 1651.3L1966 1676.3M1941 1676.3L1966 1651.3" stroke="#4DBEEE" stroke-width="8.7" fill="none"/>
<text font-family="'Liberation Serif','Times New Roman',serif" fill="#000" font-size="47.25"><tspan x="2028.2" y="1669.9">φ</tspan><tspan x="2056.3" y="1693.1" font-size="38.6">max</tspan><tspan x="2122.35" y="1669.9">=</tspan><tspan x="2150.9" y="1669.9">50°</tspan></text>
<g font-family="'Liberation Serif','Times New Roman',serif" font-size="57.9" fill="#262626">
<text x="1251.1" y="896.9" text-anchor="middle">Visibility time(s)</text>
<text transform="translate(79.6 400.3) rotate(-90)" text-anchor="middle">Frequency shift error(Hz)</text>
<text transform="translate(97.5 1401.2) rotate(-90)" text-anchor="middle">Root Mean Squared Error(Hz)</text>
<text><tspan x="1162.6" y="1897.4">φ</tspan><tspan x="1197.3" y="1925.4" font-size="47.0">max</tspan><tspan x="1279.7" y="1897.4">(°)</tspan></text>
</g>
</svg></body></html>
